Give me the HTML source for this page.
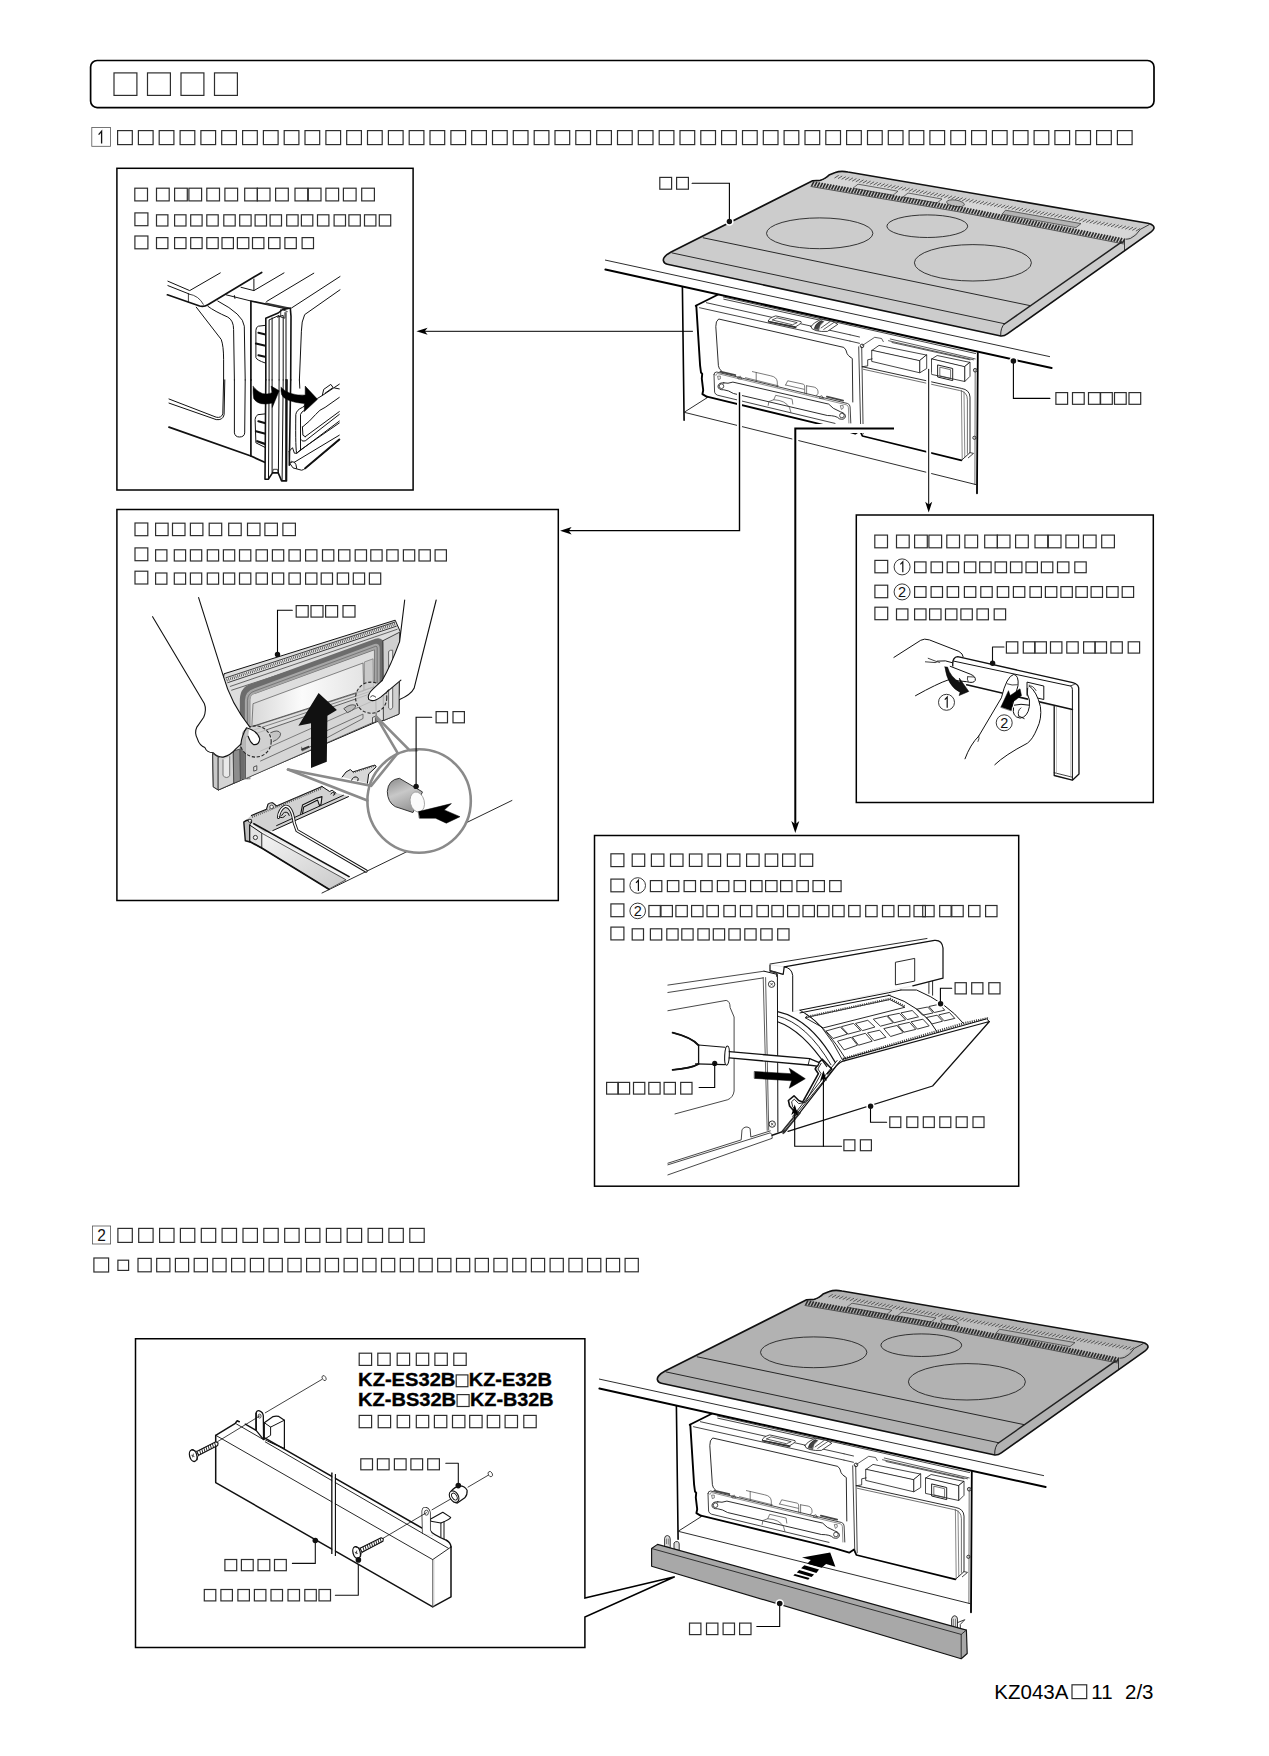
<!DOCTYPE html>
<html><head><meta charset="utf-8"><title>KZ043A 2/3</title>
<style>
html,body{margin:0;padding:0;background:#fff;}
body{width:1269px;height:1756px;overflow:hidden;font-family:"Liberation Sans",sans-serif;}
svg{display:block;}
svg text{font-family:"Liberation Sans",sans-serif;}
.t{fill:none;stroke:#2e2e2e;stroke-width:1.2;}
.k{stroke-linecap:round;stroke-linejoin:round;}
</style></head><body>
<svg width="1269" height="1756" viewBox="0 0 1269 1756">
<!-- 00_frame.py -->
<rect x="90.6" y="60.5" width="1063.4" height="47.1" rx="6.5" ry="6.5" fill="none" stroke="#000" stroke-width="1.7"/>
<rect class="t" x="114" y="72.9" width="22.9" height="22.5"/><rect class="t" x="147.5" y="72.9" width="22.9" height="22.5"/><rect class="t" x="181" y="72.9" width="22.9" height="22.5"/><rect class="t" x="214.5" y="72.9" width="22.9" height="22.5"/>
<rect x="91.8" y="127.5" width="18.6" height="18.8" fill="none" stroke="#555" stroke-width="0.8"/>
<path d="M98.6 134.6 L101.6 131.2 L101.6 143.4" fill="none" stroke="#111" stroke-width="1.3"/>
<rect class="t" x="117.6" y="130.6" width="14.7" height="14"/><rect class="t" x="138.4" y="130.6" width="14.7" height="14"/><rect class="t" x="159.2" y="130.6" width="14.7" height="14"/><rect class="t" x="180.1" y="130.6" width="14.7" height="14"/><rect class="t" x="200.9" y="130.6" width="14.7" height="14"/><rect class="t" x="221.7" y="130.6" width="14.7" height="14"/><rect class="t" x="242.6" y="130.6" width="14.7" height="14"/><rect class="t" x="263.4" y="130.6" width="14.7" height="14"/><rect class="t" x="284.2" y="130.6" width="14.7" height="14"/><rect class="t" x="305" y="130.6" width="14.7" height="14"/><rect class="t" x="325.9" y="130.6" width="14.7" height="14"/><rect class="t" x="346.7" y="130.6" width="14.7" height="14"/><rect class="t" x="367.5" y="130.6" width="14.7" height="14"/><rect class="t" x="388.4" y="130.6" width="14.7" height="14"/><rect class="t" x="409.2" y="130.6" width="14.7" height="14"/><rect class="t" x="430" y="130.6" width="14.7" height="14"/><rect class="t" x="450.9" y="130.6" width="14.7" height="14"/><rect class="t" x="471.7" y="130.6" width="14.7" height="14"/><rect class="t" x="492.5" y="130.6" width="14.7" height="14"/><rect class="t" x="513.3" y="130.6" width="14.7" height="14"/><rect class="t" x="534.2" y="130.6" width="14.7" height="14"/><rect class="t" x="555" y="130.6" width="14.7" height="14"/><rect class="t" x="575.8" y="130.6" width="14.7" height="14"/><rect class="t" x="596.7" y="130.6" width="14.7" height="14"/><rect class="t" x="617.5" y="130.6" width="14.7" height="14"/><rect class="t" x="638.3" y="130.6" width="14.7" height="14"/><rect class="t" x="659.2" y="130.6" width="14.7" height="14"/><rect class="t" x="680" y="130.6" width="14.7" height="14"/><rect class="t" x="700.8" y="130.6" width="14.7" height="14"/><rect class="t" x="721.6" y="130.6" width="14.7" height="14"/><rect class="t" x="742.5" y="130.6" width="14.7" height="14"/><rect class="t" x="763.3" y="130.6" width="14.7" height="14"/><rect class="t" x="784.1" y="130.6" width="14.7" height="14"/><rect class="t" x="805" y="130.6" width="14.7" height="14"/><rect class="t" x="825.8" y="130.6" width="14.7" height="14"/><rect class="t" x="846.6" y="130.6" width="14.7" height="14"/><rect class="t" x="867.5" y="130.6" width="14.7" height="14"/><rect class="t" x="888.3" y="130.6" width="14.7" height="14"/><rect class="t" x="909.1" y="130.6" width="14.7" height="14"/><rect class="t" x="929.9" y="130.6" width="14.7" height="14"/><rect class="t" x="950.8" y="130.6" width="14.7" height="14"/><rect class="t" x="971.6" y="130.6" width="14.7" height="14"/><rect class="t" x="992.4" y="130.6" width="14.7" height="14"/><rect class="t" x="1013.3" y="130.6" width="14.7" height="14"/><rect class="t" x="1034.1" y="130.6" width="14.7" height="14"/><rect class="t" x="1054.9" y="130.6" width="14.7" height="14"/><rect class="t" x="1075.8" y="130.6" width="14.7" height="14"/><rect class="t" x="1096.6" y="130.6" width="14.7" height="14"/><rect class="t" x="1117.4" y="130.6" width="14.7" height="14"/>
<rect x="92.4" y="1226" width="18.2" height="18" fill="none" stroke="#555" stroke-width="0.8"/>
<text x="97.2" y="1241.2" font-size="16" fill="#111" textLength="8.6" lengthAdjust="spacingAndGlyphs">2</text>
<rect class="t" x="117.9" y="1228.4" width="14.4" height="14"/><rect class="t" x="138.7" y="1228.4" width="14.4" height="14"/><rect class="t" x="159.6" y="1228.4" width="14.4" height="14"/><rect class="t" x="180.4" y="1228.4" width="14.4" height="14"/><rect class="t" x="201.3" y="1228.4" width="14.4" height="14"/><rect class="t" x="222.1" y="1228.4" width="14.4" height="14"/><rect class="t" x="243" y="1228.4" width="14.4" height="14"/><rect class="t" x="263.8" y="1228.4" width="14.4" height="14"/><rect class="t" x="284.7" y="1228.4" width="14.4" height="14"/><rect class="t" x="305.5" y="1228.4" width="14.4" height="14"/><rect class="t" x="326.4" y="1228.4" width="14.4" height="14"/><rect class="t" x="347.2" y="1228.4" width="14.4" height="14"/><rect class="t" x="368.1" y="1228.4" width="14.4" height="14"/><rect class="t" x="388.9" y="1228.4" width="14.4" height="14"/><rect class="t" x="409.8" y="1228.4" width="14.4" height="14"/>
<rect class="t" x="93.9" y="1258" width="14.7" height="14"/>
<rect class="t" x="117.9" y="1260.2" width="10.7" height="10.2"/>
<rect class="t" x="138" y="1258.4" width="13.2" height="13.4"/><rect class="t" x="156.7" y="1258.4" width="13.2" height="13.4"/><rect class="t" x="175.4" y="1258.4" width="13.2" height="13.4"/><rect class="t" x="194.2" y="1258.4" width="13.2" height="13.4"/><rect class="t" x="212.9" y="1258.4" width="13.2" height="13.4"/><rect class="t" x="231.6" y="1258.4" width="13.2" height="13.4"/><rect class="t" x="250.4" y="1258.4" width="13.2" height="13.4"/><rect class="t" x="269.1" y="1258.4" width="13.2" height="13.4"/><rect class="t" x="287.9" y="1258.4" width="13.2" height="13.4"/><rect class="t" x="306.6" y="1258.4" width="13.2" height="13.4"/><rect class="t" x="325.3" y="1258.4" width="13.2" height="13.4"/><rect class="t" x="344.1" y="1258.4" width="13.2" height="13.4"/><rect class="t" x="362.8" y="1258.4" width="13.2" height="13.4"/><rect class="t" x="381.5" y="1258.4" width="13.2" height="13.4"/><rect class="t" x="400.3" y="1258.4" width="13.2" height="13.4"/><rect class="t" x="419" y="1258.4" width="13.2" height="13.4"/><rect class="t" x="437.7" y="1258.4" width="13.2" height="13.4"/><rect class="t" x="456.5" y="1258.4" width="13.2" height="13.4"/><rect class="t" x="475.2" y="1258.4" width="13.2" height="13.4"/><rect class="t" x="493.9" y="1258.4" width="13.2" height="13.4"/><rect class="t" x="512.7" y="1258.4" width="13.2" height="13.4"/><rect class="t" x="531.4" y="1258.4" width="13.2" height="13.4"/><rect class="t" x="550.1" y="1258.4" width="13.2" height="13.4"/><rect class="t" x="568.9" y="1258.4" width="13.2" height="13.4"/><rect class="t" x="587.6" y="1258.4" width="13.2" height="13.4"/><rect class="t" x="606.4" y="1258.4" width="13.2" height="13.4"/><rect class="t" x="625.1" y="1258.4" width="13.2" height="13.4"/>
<text x="994.3" y="1698.9" font-size="20.5" fill="#000">KZ043A</text>
<rect class="t" x="1072" y="1684.8" width="14.7" height="13.8"/>
<text x="1091.3" y="1698.9" font-size="20.5" fill="#000">11</text>
<text x="1125" y="1698.9" font-size="20.5" fill="#000">2/3</text>
<rect x="116.9" y="168.3" width="296.2" height="321.7" fill="none" stroke="#000" stroke-width="1.5"/>
<rect x="116.9" y="509.5" width="441.4" height="391" fill="none" stroke="#000" stroke-width="1.5"/>
<rect x="856.3" y="515" width="297" height="287.5" fill="none" stroke="#000" stroke-width="1.5"/>
<rect x="594.5" y="835.5" width="424.2" height="350.7" fill="none" stroke="#000" stroke-width="1.5"/>
<!-- 01_text.py -->
<rect class="t" x="134.8" y="188.2" width="12.7" height="12.7"/><rect class="t" x="156.5" y="188.2" width="12.7" height="12.7"/><rect class="t" x="174.6" y="188.2" width="12.7" height="12.7"/><rect class="t" x="188.9" y="188.2" width="12.7" height="12.7"/><rect class="t" x="206.8" y="188.2" width="12.7" height="12.7"/><rect class="t" x="224.9" y="188.2" width="12.7" height="12.7"/><rect class="t" x="244.7" y="188.2" width="12.7" height="12.7"/><rect class="t" x="257.3" y="188.2" width="12.7" height="12.7"/><rect class="t" x="275.6" y="188.2" width="12.7" height="12.7"/><rect class="t" x="295" y="188.2" width="12.7" height="12.7"/><rect class="t" x="308.3" y="188.2" width="12.7" height="12.7"/><rect class="t" x="325.9" y="188.2" width="12.7" height="12.7"/><rect class="t" x="343.4" y="188.2" width="12.7" height="12.7"/><rect class="t" x="361.7" y="188.2" width="12.7" height="12.7"/>
<rect class="t" x="134.9" y="212.9" width="13" height="12.8"/>
<rect class="t" x="156.5" y="214.8" width="11.4" height="11.2"/><rect class="t" x="174.6" y="214.8" width="11.4" height="11.2"/><rect class="t" x="190.7" y="214.8" width="11.4" height="11.2"/><rect class="t" x="206.8" y="214.8" width="11.4" height="11.2"/><rect class="t" x="223.8" y="214.8" width="11.4" height="11.2"/><rect class="t" x="239.7" y="214.8" width="11.4" height="11.2"/><rect class="t" x="255.1" y="214.8" width="11.4" height="11.2"/><rect class="t" x="270.1" y="214.8" width="11.4" height="11.2"/><rect class="t" x="286.7" y="214.8" width="11.4" height="11.2"/><rect class="t" x="301.4" y="214.8" width="11.4" height="11.2"/><rect class="t" x="317.5" y="214.8" width="11.4" height="11.2"/><rect class="t" x="334.1" y="214.8" width="11.4" height="11.2"/><rect class="t" x="348.9" y="214.8" width="11.4" height="11.2"/><rect class="t" x="364.5" y="214.8" width="11.4" height="11.2"/><rect class="t" x="379.3" y="214.8" width="11.4" height="11.2"/>
<rect class="t" x="134.9" y="236" width="13" height="12.8"/>
<rect class="t" x="156.5" y="237.6" width="11.4" height="11"/><rect class="t" x="174.6" y="237.6" width="11.4" height="11"/><rect class="t" x="190.7" y="237.6" width="11.4" height="11"/><rect class="t" x="206.8" y="237.6" width="11.4" height="11"/><rect class="t" x="222" y="237.6" width="11.4" height="11"/><rect class="t" x="237.4" y="237.6" width="11.4" height="11"/><rect class="t" x="252.5" y="237.6" width="11.4" height="11"/><rect class="t" x="268.6" y="237.6" width="11.4" height="11"/><rect class="t" x="284.9" y="237.6" width="11.4" height="11"/><rect class="t" x="302.1" y="237.6" width="11.4" height="11"/>
<rect class="t" x="874.8" y="535.1" width="12.7" height="12.7"/><rect class="t" x="896.5" y="535.1" width="12.7" height="12.7"/><rect class="t" x="914.6" y="535.1" width="12.7" height="12.7"/><rect class="t" x="928.9" y="535.1" width="12.7" height="12.7"/><rect class="t" x="946.8" y="535.1" width="12.7" height="12.7"/><rect class="t" x="964.9" y="535.1" width="12.7" height="12.7"/><rect class="t" x="984.7" y="535.1" width="12.7" height="12.7"/><rect class="t" x="997.3" y="535.1" width="12.7" height="12.7"/><rect class="t" x="1015.6" y="535.1" width="12.7" height="12.7"/><rect class="t" x="1035" y="535.1" width="12.7" height="12.7"/><rect class="t" x="1048.3" y="535.1" width="12.7" height="12.7"/><rect class="t" x="1065.9" y="535.1" width="12.7" height="12.7"/><rect class="t" x="1083.4" y="535.1" width="12.7" height="12.7"/><rect class="t" x="1101.7" y="535.1" width="12.7" height="12.7"/>
<rect class="t" x="135" y="523" width="12.8" height="12.7"/>
<rect class="t" x="155.6" y="523.2" width="12.5" height="12.4"/><rect class="t" x="172.5" y="523.2" width="12.5" height="12.4"/><rect class="t" x="190.4" y="523.2" width="12.5" height="12.4"/><rect class="t" x="209.2" y="523.2" width="12.5" height="12.4"/><rect class="t" x="228.7" y="523.2" width="12.5" height="12.4"/><rect class="t" x="247.5" y="523.2" width="12.5" height="12.4"/><rect class="t" x="264.9" y="523.2" width="12.5" height="12.4"/><rect class="t" x="282.9" y="523.2" width="12.5" height="12.4"/>
<rect class="t" x="135" y="547.9" width="12.8" height="12.8"/>
<rect class="t" x="155.6" y="549.8" width="11.3" height="11.2"/><rect class="t" x="174.3" y="549.8" width="11.3" height="11.2"/><rect class="t" x="190.4" y="549.8" width="11.3" height="11.2"/><rect class="t" x="207.3" y="549.8" width="11.3" height="11.2"/><rect class="t" x="223.4" y="549.8" width="11.3" height="11.2"/><rect class="t" x="239.5" y="549.8" width="11.3" height="11.2"/><rect class="t" x="256.1" y="549.8" width="11.3" height="11.2"/><rect class="t" x="272.4" y="549.8" width="11.3" height="11.2"/><rect class="t" x="289" y="549.8" width="11.3" height="11.2"/><rect class="t" x="305.6" y="549.8" width="11.3" height="11.2"/><rect class="t" x="322.5" y="549.8" width="11.3" height="11.2"/><rect class="t" x="338.6" y="549.8" width="11.3" height="11.2"/><rect class="t" x="355.2" y="549.8" width="11.3" height="11.2"/><rect class="t" x="370.8" y="549.8" width="11.3" height="11.2"/><rect class="t" x="386.8" y="549.8" width="11.3" height="11.2"/><rect class="t" x="403.4" y="549.8" width="11.3" height="11.2"/><rect class="t" x="419" y="549.8" width="11.3" height="11.2"/><rect class="t" x="435.1" y="549.8" width="11.3" height="11.2"/>
<rect class="t" x="135" y="571.2" width="12.8" height="12.8"/>
<rect class="t" x="155.6" y="573" width="11.3" height="11.2"/><rect class="t" x="174.3" y="573" width="11.3" height="11.2"/><rect class="t" x="190.4" y="573" width="11.3" height="11.2"/><rect class="t" x="207.3" y="573" width="11.3" height="11.2"/><rect class="t" x="223.4" y="573" width="11.3" height="11.2"/><rect class="t" x="239.5" y="573" width="11.3" height="11.2"/><rect class="t" x="256.1" y="573" width="11.3" height="11.2"/><rect class="t" x="272.4" y="573" width="11.3" height="11.2"/><rect class="t" x="289" y="573" width="11.3" height="11.2"/><rect class="t" x="305.6" y="573" width="11.3" height="11.2"/><rect class="t" x="321.2" y="573" width="11.3" height="11.2"/><rect class="t" x="337.3" y="573" width="11.3" height="11.2"/><rect class="t" x="353.3" y="573" width="11.3" height="11.2"/><rect class="t" x="369.4" y="573" width="11.3" height="11.2"/>
<rect class="t" x="874.9" y="560.4" width="12.8" height="12.4"/>
<circle cx="902.1" cy="566.9" r="8.0" fill="#fff" stroke="#222" stroke-width="0.9"/><path d="M900.4 564.3 l2.4 -2.6 l0 10.6" fill="none" stroke="#111" stroke-width="1.2"/>
<rect class="t" x="914.6" y="561.9" width="11.4" height="10.8"/><rect class="t" x="931.1" y="561.9" width="11.4" height="10.8"/><rect class="t" x="947.2" y="561.9" width="11.4" height="10.8"/><rect class="t" x="964.4" y="561.9" width="11.4" height="10.8"/><rect class="t" x="979.7" y="561.9" width="11.4" height="10.8"/><rect class="t" x="995.1" y="561.9" width="11.4" height="10.8"/><rect class="t" x="1010.5" y="561.9" width="11.4" height="10.8"/><rect class="t" x="1026" y="561.9" width="11.4" height="10.8"/><rect class="t" x="1041.4" y="561.9" width="11.4" height="10.8"/><rect class="t" x="1057.5" y="561.9" width="11.4" height="10.8"/><rect class="t" x="1074.8" y="561.9" width="11.4" height="10.8"/>
<rect class="t" x="874.9" y="585.2" width="12.8" height="12.5"/>
<circle cx="902.1" cy="591.9" r="8.0" fill="#fff" stroke="#222" stroke-width="0.9"/><text x="902.1" y="597" font-size="14.5" text-anchor="middle" fill="#111">2</text>
<rect class="t" x="914.6" y="586.6" width="11.4" height="10.8"/><rect class="t" x="931.1" y="586.6" width="11.4" height="10.8"/><rect class="t" x="947.2" y="586.6" width="11.4" height="10.8"/><rect class="t" x="964.4" y="586.6" width="11.4" height="10.8"/><rect class="t" x="980.8" y="586.6" width="11.4" height="10.8"/><rect class="t" x="997.3" y="586.6" width="11.4" height="10.8"/><rect class="t" x="1013.4" y="586.6" width="11.4" height="10.8"/><rect class="t" x="1030" y="586.6" width="11.4" height="10.8"/><rect class="t" x="1045.4" y="586.6" width="11.4" height="10.8"/><rect class="t" x="1060.9" y="586.6" width="11.4" height="10.8"/><rect class="t" x="1075.9" y="586.6" width="11.4" height="10.8"/><rect class="t" x="1091.1" y="586.6" width="11.4" height="10.8"/><rect class="t" x="1106.7" y="586.6" width="11.4" height="10.8"/><rect class="t" x="1122.2" y="586.6" width="11.4" height="10.8"/>
<rect class="t" x="874.9" y="607.2" width="12.8" height="12.5"/>
<rect class="t" x="896.5" y="608.9" width="11.4" height="10.9"/><rect class="t" x="914.6" y="608.9" width="11.4" height="10.9"/><rect class="t" x="929.6" y="608.9" width="11.4" height="10.9"/><rect class="t" x="945.5" y="608.9" width="11.4" height="10.9"/><rect class="t" x="960.9" y="608.9" width="11.4" height="10.9"/><rect class="t" x="977" y="608.9" width="11.4" height="10.9"/><rect class="t" x="994.2" y="608.9" width="11.4" height="10.9"/>
<rect class="t" x="1006.4" y="641.8" width="11.4" height="11.3"/><rect class="t" x="1023.3" y="641.8" width="11.4" height="11.3"/><rect class="t" x="1035" y="641.8" width="11.4" height="11.3"/><rect class="t" x="1050.5" y="641.8" width="11.4" height="11.3"/><rect class="t" x="1066.8" y="641.8" width="11.4" height="11.3"/><rect class="t" x="1083.6" y="641.8" width="11.4" height="11.3"/><rect class="t" x="1095.1" y="641.8" width="11.4" height="11.3"/><rect class="t" x="1110.9" y="641.8" width="11.4" height="11.3"/><rect class="t" x="1128.2" y="641.8" width="11.4" height="11.3"/>
<path class="k" d="M1004 647 L992.5 647 L992.5 662.9" fill="none" stroke-width="1.1" stroke="#111" />
<rect class="t" x="610.9" y="853.8" width="13" height="12.8"/>
<rect class="t" x="632.2" y="854" width="12.5" height="12.4"/><rect class="t" x="651.4" y="854" width="12.5" height="12.4"/><rect class="t" x="670.5" y="854" width="12.5" height="12.4"/><rect class="t" x="689.4" y="854" width="12.5" height="12.4"/><rect class="t" x="708.1" y="854" width="12.5" height="12.4"/><rect class="t" x="727.4" y="854" width="12.5" height="12.4"/><rect class="t" x="746.6" y="854" width="12.5" height="12.4"/><rect class="t" x="765.2" y="854" width="12.5" height="12.4"/><rect class="t" x="782.6" y="854" width="12.5" height="12.4"/><rect class="t" x="800.2" y="854" width="12.5" height="12.4"/>
<rect class="t" x="610.9" y="879.1" width="13" height="12.7"/>
<circle cx="637.7" cy="885.5" r="7.8" fill="#fff" stroke="#222" stroke-width="0.9"/><path d="M636 882.9 l2.4 -2.6 l0 10.6" fill="none" stroke="#111" stroke-width="1.2"/>
<rect class="t" x="650.4" y="880.6" width="11.4" height="11"/><rect class="t" x="667.4" y="880.6" width="11.4" height="11"/><rect class="t" x="684.1" y="880.6" width="11.4" height="11"/><rect class="t" x="700.7" y="880.6" width="11.4" height="11"/><rect class="t" x="717.4" y="880.6" width="11.4" height="11"/><rect class="t" x="734.1" y="880.6" width="11.4" height="11"/><rect class="t" x="750.6" y="880.6" width="11.4" height="11"/><rect class="t" x="765.6" y="880.6" width="11.4" height="11"/><rect class="t" x="780.6" y="880.6" width="11.4" height="11"/><rect class="t" x="796.9" y="880.6" width="11.4" height="11"/><rect class="t" x="813" y="880.6" width="11.4" height="11"/><rect class="t" x="829.7" y="880.6" width="11.4" height="11"/>
<rect class="t" x="610.9" y="903.9" width="13" height="12.8"/>
<circle cx="637.7" cy="910.9" r="7.8" fill="#fff" stroke="#222" stroke-width="0.9"/><text x="637.7" y="916" font-size="14.5" text-anchor="middle" fill="#111">2</text>
<rect class="t" x="648.9" y="905.5" width="11.4" height="11.2"/><rect class="t" x="661" y="905.5" width="11.4" height="11.2"/><rect class="t" x="675.9" y="905.5" width="11.4" height="11.2"/><rect class="t" x="691.6" y="905.5" width="11.4" height="11.2"/><rect class="t" x="707" y="905.5" width="11.4" height="11.2"/><rect class="t" x="723.9" y="905.5" width="11.4" height="11.2"/><rect class="t" x="740.4" y="905.5" width="11.4" height="11.2"/><rect class="t" x="757" y="905.5" width="11.4" height="11.2"/><rect class="t" x="771.9" y="905.5" width="11.4" height="11.2"/><rect class="t" x="787.6" y="905.5" width="11.4" height="11.2"/><rect class="t" x="803" y="905.5" width="11.4" height="11.2"/><rect class="t" x="817.5" y="905.5" width="11.4" height="11.2"/><rect class="t" x="832.7" y="905.5" width="11.4" height="11.2"/><rect class="t" x="848.7" y="905.5" width="11.4" height="11.2"/><rect class="t" x="865.7" y="905.5" width="11.4" height="11.2"/><rect class="t" x="882.5" y="905.5" width="11.4" height="11.2"/><rect class="t" x="898.4" y="905.5" width="11.4" height="11.2"/><rect class="t" x="914" y="905.5" width="11.4" height="11.2"/><rect class="t" x="922.7" y="905.5" width="11.4" height="11.2"/><rect class="t" x="939.7" y="905.5" width="11.4" height="11.2"/><rect class="t" x="951.8" y="905.5" width="11.4" height="11.2"/><rect class="t" x="968.6" y="905.5" width="11.4" height="11.2"/><rect class="t" x="985.6" y="905.5" width="11.4" height="11.2"/>
<rect class="t" x="610.9" y="927.1" width="13" height="12.8"/>
<rect class="t" x="632.2" y="928.8" width="11.3" height="11.2"/><rect class="t" x="650.4" y="928.8" width="11.3" height="11.2"/><rect class="t" x="666.8" y="928.8" width="11.3" height="11.2"/><rect class="t" x="681.8" y="928.8" width="11.3" height="11.2"/><rect class="t" x="697.9" y="928.8" width="11.3" height="11.2"/><rect class="t" x="713.3" y="928.8" width="11.3" height="11.2"/><rect class="t" x="728.9" y="928.8" width="11.3" height="11.2"/><rect class="t" x="744.8" y="928.8" width="11.3" height="11.2"/><rect class="t" x="760.8" y="928.8" width="11.3" height="11.2"/><rect class="t" x="777.7" y="928.8" width="11.3" height="11.2"/>
<rect class="t" x="359.2" y="1353.2" width="12.4" height="12.2"/><rect class="t" x="377.8" y="1353.2" width="12.4" height="12.2"/><rect class="t" x="397.2" y="1353.2" width="12.4" height="12.2"/><rect class="t" x="416.3" y="1353.2" width="12.4" height="12.2"/><rect class="t" x="434.9" y="1353.2" width="12.4" height="12.2"/><rect class="t" x="453.8" y="1353.2" width="12.4" height="12.2"/>
<text x="358.1" y="1386" font-weight="bold" font-size="18" fill="#000" stroke="#000" stroke-width="0.35" lengthAdjust="spacingAndGlyphs" textLength="97.3">KZ-ES32B</text>
<rect class="t" x="456.2" y="1374.9" width="11.7" height="11.8"/>
<text x="468.8" y="1386" font-weight="bold" font-size="18" fill="#000" stroke="#000" stroke-width="0.35" lengthAdjust="spacingAndGlyphs" textLength="83">KZ-E32B</text>
<text x="358.1" y="1406.3" font-weight="bold" font-size="18" fill="#000" stroke="#000" stroke-width="0.35" lengthAdjust="spacingAndGlyphs" textLength="98">KZ-BS32B</text>
<rect class="t" x="457.1" y="1394.6" width="12" height="11.9"/>
<text x="470.1" y="1406.3" font-weight="bold" font-size="18" fill="#000" stroke="#000" stroke-width="0.35" lengthAdjust="spacingAndGlyphs" textLength="83.5">KZ-B32B</text>
<rect class="t" x="359.2" y="1415.4" width="12.4" height="12.3"/><rect class="t" x="378.2" y="1415.4" width="12.4" height="12.3"/><rect class="t" x="397.2" y="1415.4" width="12.4" height="12.3"/><rect class="t" x="416.3" y="1415.4" width="12.4" height="12.3"/><rect class="t" x="434.4" y="1415.4" width="12.4" height="12.3"/><rect class="t" x="452.5" y="1415.4" width="12.4" height="12.3"/><rect class="t" x="469.7" y="1415.4" width="12.4" height="12.3"/><rect class="t" x="487.3" y="1415.4" width="12.4" height="12.3"/><rect class="t" x="505.1" y="1415.4" width="12.4" height="12.3"/><rect class="t" x="523.8" y="1415.4" width="12.4" height="12.3"/>
<rect class="t" x="360.8" y="1458.8" width="11.7" height="11"/><rect class="t" x="377.4" y="1458.8" width="11.7" height="11"/><rect class="t" x="394.4" y="1458.8" width="11.7" height="11"/><rect class="t" x="410.9" y="1458.8" width="11.7" height="11"/><rect class="t" x="427.7" y="1458.8" width="11.7" height="11"/>
<path class="k" d="M445.8 1463.2 L458.3 1463.2 L458.3 1484.9" fill="none" stroke-width="1.1" stroke="#111" />
<rect class="t" x="224.9" y="1559.5" width="11.8" height="11.2"/><rect class="t" x="241.4" y="1559.5" width="11.8" height="11.2"/><rect class="t" x="258" y="1559.5" width="11.8" height="11.2"/><rect class="t" x="274.5" y="1559.5" width="11.8" height="11.2"/>
<path class="k" d="M292.4 1563.4 L315.3 1563.4 L315.3 1541.2" fill="none" stroke-width="1.1" stroke="#111" />
<rect class="t" x="204.3" y="1589.5" width="11.5" height="11.4"/><rect class="t" x="220.9" y="1589.5" width="11.5" height="11.4"/><rect class="t" x="237.9" y="1589.5" width="11.5" height="11.4"/><rect class="t" x="254.4" y="1589.5" width="11.5" height="11.4"/><rect class="t" x="271" y="1589.5" width="11.5" height="11.4"/><rect class="t" x="288" y="1589.5" width="11.5" height="11.4"/><rect class="t" x="304.8" y="1589.5" width="11.5" height="11.4"/><rect class="t" x="319" y="1589.5" width="11.5" height="11.4"/>
<path class="k" d="M335.4 1595.3 L358.3 1595.3 L358.3 1560.6" fill="none" stroke-width="1.1" stroke="#111" />
<rect class="t" x="659.8" y="177.4" width="11.8" height="11.8"/><rect class="t" x="676.6" y="177.4" width="11.8" height="11.8"/>
<rect class="t" x="1055.9" y="392.6" width="11.7" height="11.7"/><rect class="t" x="1072.5" y="392.6" width="11.7" height="11.7"/><rect class="t" x="1088.5" y="392.6" width="11.7" height="11.7"/><rect class="t" x="1100.6" y="392.6" width="11.7" height="11.7"/><rect class="t" x="1114.5" y="392.6" width="11.7" height="11.7"/><rect class="t" x="1129" y="392.6" width="11.7" height="11.7"/>
<!-- 10_cooktop.py -->
<g id="topfig">
<path class="k" d="M682.4 287.1 L684.1 420.3" fill="none" stroke-width="1.6" stroke="#000" />
<path class="k" d="M684.6 412 L707 397.8" fill="none" stroke-width="0.9" stroke="#151515" />
<path class="k" d="M684.6 412.4 L850 453.3 L976 484.6" fill="none" stroke-width="0.9" stroke="#151515" />
<path class="k" d="M695.7 305.8 L717.7 294.8" fill="none" stroke-width="1.8" stroke="#000" />
<path class="k" d="M696.3 305.8 L700.1 365.7 L701 372.5 L702.2 373.8 L701.8 378.6 L703.2 390.2 L702.4 394.2 L707 396.8" stroke-width="1.9" stroke="#000" fill="none" />
<path class="k" d="M707 396.6 L816.1 423.2 L841 429.3 L855.2 433.7 L860 430.5 L862.4 436 L961.4 460.4" fill="none" stroke-width="1.8" stroke="#000" />
<path class="k" d="M723.4 297 L850 325.3" fill="none" stroke-width="0.8" stroke="#151515" />
<path class="k" d="M723.8 299.2 L822.4 320.7" fill="none" stroke-width="0.8" stroke="#151515" />
<path class="k" d="M706.4 302.7 L850 334.8" fill="none" stroke-width="0.8" stroke="#151515" />
<path class="k" d="M699.5 307.7 L850 341.1" fill="none" stroke-width="0.8" stroke="#151515" />
<path class="k" d="M850 325.3 L975.5 353.5" fill="none" stroke-width="0.8" stroke="#151515" />
<path class="k" d="M850 334.8 L859.5 337" fill="none" stroke-width="0.8" stroke="#151515" />
<path class="k" d="M850 341.1 L859.5 343.3" fill="none" stroke-width="0.8" stroke="#151515" />
<path class="k" d="M 721.5 371 Q 718.7 369.2 718.4 365.7 L 715.8 326.6 Q 715.6 320.9 718.7 319 L 843.8 347.4 Q 846.3 349.3 847.1 353.7 Q 848.4 355.9 850 356.9" stroke-width="0.9" stroke="#151515" fill="none" />
<path class="k" d="M850 356.9 L852.3 358.5 L852.8 402" fill="none" stroke-width="0.9" stroke="#151515" />
<path class="k" d="M 768.2 320.9 Q 768.8 318 775.7 315.9 L 801 321.6 Q 802.8 322.6 795.9 326.6 Z" stroke-width="0.8" stroke="#151515" fill="#fff" />
<path class="k" d="M 772.6 319.8 L 777 317.8 L 797.2 322.6 L 792.8 324.6 Z" stroke-width="0.7" stroke="#151515" fill="none" />
<path class="k" d="M 768.8 321.8 L 795.7 327.4" stroke-width="1.6" stroke="#333" fill="none" />
<path class="k" d="M 810.8 326.6 Q 812.9 322.8 821.1 319.3 L 833.1 321.6 L 837.8 324.3 L 827.4 331.4 Q 821.1 331.9 816.1 330.6 Q 811 329.4 810.8 326.6 Z" stroke-width="0.8" stroke="#151515" fill="#fff" />
<path class="k" d="M 814.2 328.5 Q 814.8 324.1 821.1 320.6 L 823.7 321.6 Q 818.6 325.3 818.6 330.1 Z" stroke-width="0.6" stroke="#222" fill="#444" />
<path class="k" d="M 821.1 327.9 L 830 321.6 M 823.7 329.4 L 833.7 322.6" stroke-width="0.7" stroke="#151515" fill="none" />
<path class="k" d="M 714 374.5 Q 714 372 716.7 372 L 847.6 403.5 Q 850 404.4 850.1 406.9 L 850.8 423 M 714 374.5 L 714.6 392.2 Q 715.2 394.5 717.5 395.2 L 835 423.4" stroke-width="0.8" stroke="#151515" fill="none" />
<path class="k" d="M 715.8 375.4 Q 715.8 373.6 717.7 373.6 L 846.3 404.8 Q 848.4 405.4 848.4 407.7 L 848.9 423" stroke-width="0.6" stroke="#444" fill="none" />
<path class="k" d="M 723.8 382.9 Q 727.8 384 732.9 382.1 L 828.7 404.1 Q 831.8 408.5 840.7 411.9 Q 846.1 413.6 845.3 417 Q 844.1 420.3 839.4 418.8 Q 836.3 415.5 827.4 415.5 L 733.5 393.5 Q 728.5 390.3 723.8 389.8 Q 718 390 718 386.2 Q 718.5 382.4 723.8 382.9 Z" stroke-width="0.9" stroke="#151515" fill="none" />
<circle cx="721.5" cy="386.2" r="2.3" fill="none" stroke="#222" stroke-width="0.8"/>
<circle cx="841.9" cy="415.5" r="2.3" fill="none" stroke="#222" stroke-width="0.8"/>
<path class="k" d="M 718 376.1 L 720.3 376.1 L 720.3 378.9 L 718.7 379.5 Z M 737.9 377 L 740.4 376.1 L 741.7 378.9 L 738.5 378.9 Z M 819.9 396.6 L 821.8 395.6 L 823.7 398.5 L 820.1 398.5 Z M 840.7 405.6 L 843.2 405.6 L 843.2 408.2 L 841.7 409.2 Z" stroke-width="0.6" stroke="#333" fill="none" />
<path class="k" d="M 752.4 371.6 L 770.7 375.8 Q 777 377 777.3 382.1 L 777.3 387.1 M 756.2 372.6 L 756.2 380.8 M 745.5 377.7 L 778.3 385.8" stroke-width="0.7" stroke="#444" fill="none" />
<path class="k" d="M 785.6 385 L 787.7 380.8 L 803.5 384.2 Q 804.7 384.6 804.7 387.1 L 804.7 393 M 785.6 385 L 804.1 389.3 M 806.6 385.8 L 814.2 387.1 Q 818.6 388.4 818 393.4 L 816.1 395.9 M 806.6 385.8 L 806.6 394" stroke-width="0.7" stroke="#444" fill="none" />
<path class="k" d="M 768.2 405.4 L 768.8 401.6 L 773.8 399.7 L 775.7 395.3 L 792.1 399.1 L 792.8 404.1 M 773.8 399.7 Q 785.8 400.3 789.6 407.9 L 790.9 412.3" stroke-width="0.7" stroke="#444" fill="none" />
<path class="k" d="M 720.3 371.6 L 735.4 375.1" stroke-width="1.6" stroke="#444" fill="none" />
<path class="k" d="M 826.8 396.6 L 843.2 400.6" stroke-width="1.6" stroke="#444" fill="none" />
<path class="k" d="M977.8 352.9 L977 493.3" fill="none" stroke-width="1.8" stroke="#000" />
<path class="k" d="M975.2 369.3 L974.9 484.6" fill="none" stroke-width="0.7" stroke="#333" />
<path class="k" d="M858.7 346.8 L860.8 433.1" fill="none" stroke-width="0.8" stroke="#151515" />
<path class="k" d="M861.7 346.8 L863.2 433.8" fill="none" stroke-width="0.8" stroke="#151515" />
<circle cx="862" cy="345.9" r="1.8" fill="none" stroke="#222" stroke-width="0.9"/>
<circle cx="975.2" cy="370.2" r="1.8" fill="none" stroke="#222" stroke-width="0.9"/>
<circle cx="974.4" cy="437.8" r="1.6" fill="none" stroke="#222" stroke-width="0.9"/>
<path class="k" d="M 862.5 345.4 L 874.7 337.3 L 881.6 338.5 L 883.3 341.6 M 888.5 340.7 L 973.5 359.8 M 890.3 339 L 975.2 358.9 M 892 342.5 L 970 359.8" stroke-width="0.7" stroke="#151515" fill="none" />
<path class="k" d="M 872.1 350.3 L 879 345.4 L 926.7 355.1 L 919.8 360.7 Z" stroke-width="0.8" stroke="#151515" fill="#fff" />
<path class="k" d="M 872.1 350.3 L 919.8 360.7 L 919.8 372.8 L 872.1 361.5 Z" stroke-width="0.8" stroke="#151515" fill="#fff" />
<path class="k" d="M 926.7 355.1 L 926.7 368.5 L 919.8 372.8 L 919.8 360.7 Z" stroke-width="0.8" stroke="#151515" fill="#fff" />
<path class="k" d="M 872.1 358.9 L 867.7 359.8 L 867.7 365.9 L 862.5 366.7" stroke-width="0.8" stroke="#151515" fill="none" />
<path class="k" d="M 931.9 358.9 L 937.1 355.5 L 970 362.4 L 964.8 366.7 Z" stroke-width="0.8" stroke="#151515" fill="#fff" />
<path class="k" d="M 931.9 358.9 L 964.8 366.7 L 964.8 381.5 L 931.9 374.5 Z" stroke-width="0.8" stroke="#151515" fill="#fff" />
<path class="k" d="M 970 362.4 L 970 376.3 L 964.8 381.5 L 964.8 366.7 Z" stroke-width="0.8" stroke="#151515" fill="#fff" />
<path class="k" d="M 938 365 L 952.7 368.5 L 952.7 380.6 L 938 377.1 Z" stroke-width="1.0" stroke="#222" fill="none" />
<path class="k" d="M 940.2 367.3 L 950.6 369.7 L 950.6 378.4 L 940.2 375.9 Z" stroke-width="0.7" stroke="#333" fill="none" />
<path class="k" d="M 862.2 366.7 L 961.4 388.4 Q 969.7 389.8 970 397.1 L 970 452.6 L 961.4 460.4" stroke-width="0.9" stroke="#151515" fill="none" />
<path class="k" d="M 863.4 369.3 L 959.6 390.5 Q 967.4 391.9 967.4 399.7 L 967.4 453.4" stroke-width="0.7" stroke="#333" fill="none" />
<path class="k" d="M 961.4 390.2 L 962.2 459.5" stroke-width="0.7" stroke="#555" fill="none" />
<path class="k" d="M 964 391.9 L 964.8 456.9" stroke-width="0.7" stroke="#555" fill="none" />
<path class="k" d="M 970 452.6 L 973.5 453.4 L 968.3 457.8" stroke-width="0.8" stroke="#151515" fill="none" />
<path class="k" d="M605.4 260.1 L1049.6 356.6" fill="none" stroke-width="0.9" stroke="#151515" />
<path class="k" d="M605.4 269.6 L1051.6 368" fill="none" stroke-width="2" stroke="#000" />
<path d="M667.3 264.2 L999.7 335.8 Q1003.6 336.6 1007.3 333.9 L1150.8 232.2 Q1155.6 228.4 1153.2 225.8 Q1151.6 223.9 1147.9 223.2 L848 172.0 Q840.5 170.4 835.3 172.6 L829 175.1 Q824 179.6 820.2 180.4 L812.6 180.8 L671.1 252 Q662.2 257 663.5 261 Q664.2 263.6 667.3 264.2 Z" fill="#cccccc" stroke="#111" stroke-width="1.6" stroke-linejoin="round"/>
<clipPath id="cpa"><path d="M667.3 264.2 L999.7 335.8 Q1003.6 336.6 1007.3 333.9 L1150.8 232.2 Q1155.6 228.4 1153.2 225.8 Q1151.6 223.9 1147.9 223.2 L848 172.0 Q840.5 170.4 835.3 172.6 L829 175.1 Q824 179.6 820.2 180.4 L812.6 180.8 L671.1 252 Q662.2 257 663.5 261 Q664.2 263.6 667.3 264.2 Z"/></clipPath>
<g clip-path="url(#cpa)"><polygon points="818,182.6 834,175 1141,229 1124,240.2 1060,227 960,207.6" fill="#d6d6d6" stroke="none" stroke-width="1" stroke-linejoin="round" /><polygon points="1005.5,210.2 1081,223.6 1076,227.6 1002,214.2" fill="#b4b4b4" stroke="#333" stroke-width="0.7" stroke-linejoin="round" /><polygon points="858,184.2 898,191.2 893,195.2 853,188.2" fill="#d6d6d6" stroke="#333" stroke-width="0.7" stroke-linejoin="round" /><polygon points="908,193 942,199 937,203 903,197" fill="#d6d6d6" stroke="#333" stroke-width="0.7" stroke-linejoin="round" /><ellipse cx="955.5" cy="203.3" rx="9" ry="3.2" fill="#bcbcbc" stroke="#333" stroke-width="0.7" transform="rotate(9 955.5 203.3)"/><path d="M814 181.4 l-2.4 4.6 M816.9 181.9 l-2.4 4.6 M819.7 182.4 l-2.4 4.6 M822.6 182.9 l-2.4 4.6 M825.4 183.4 l-2.4 4.6 M828.3 183.8 l-2.4 4.6 M831.2 184.3 l-2.4 4.6 M834 184.8 l-2.4 4.6 M836.9 185.3 l-2.4 4.6 M839.7 185.8 l-2.4 4.6 M842.6 186.3 l-2.4 4.6 M845.4 186.8 l-2.4 4.6 M848.3 187.3 l-2.4 4.6 M851.2 187.8 l-2.4 4.6 M854 188.3 l-2.4 4.6 M856.9 188.7 l-2.4 4.6 M859.7 189.2 l-2.4 4.6 M862.6 189.7 l-2.4 4.6 M865.5 190.2 l-2.4 4.6 M868.3 190.7 l-2.4 4.6 M871.2 191.2 l-2.4 4.6 M874 191.7 l-2.4 4.6 M876.9 192.2 l-2.4 4.6 M879.7 192.7 l-2.4 4.6 M882.6 193.1 l-2.4 4.6 M885.5 193.6 l-2.4 4.6 M888.3 194.1 l-2.4 4.6 M891.2 194.6 l-2.4 4.6 M894 195.1 l-2.4 4.6 M896.9 195.6 l-2.4 4.6 M899.8 196.1 l-2.4 4.6 M902.6 196.6 l-2.4 4.6 M905.5 197.1 l-2.4 4.6 M908.3 197.5 l-2.4 4.6 M911.2 198 l-2.4 4.6 M914 198.5 l-2.4 4.6 M916.9 199 l-2.4 4.6 M919.8 199.5 l-2.4 4.6 M922.6 200 l-2.4 4.6 M925.5 200.5 l-2.4 4.6 M928.3 201 l-2.4 4.6 M931.2 201.5 l-2.4 4.6 M934.1 202 l-2.4 4.6 M936.9 202.4 l-2.4 4.6 M939.8 202.9 l-2.4 4.6 M942.6 203.4 l-2.4 4.6 M945.5 203.9 l-2.4 4.6 M948.3 204.4 l-2.4 4.6 M951.2 204.9 l-2.4 4.6 M954.1 205.4 l-2.4 4.6 M956.9 205.9 l-2.4 4.6 M959.8 206.4 l-2.4 4.6 M962.6 206.9 l-2.4 4.6 M965.5 207.4 l-2.4 4.6 M968.3 208 l-2.4 4.6 M971.2 208.5 l-2.4 4.6 M974 209.1 l-2.4 4.6 M976.9 209.6 l-2.4 4.6 M979.7 210.2 l-2.4 4.6 M982.6 210.7 l-2.4 4.6 M985.4 211.3 l-2.4 4.6 M988.3 211.8 l-2.4 4.6 M991.1 212.4 l-2.4 4.6 M993.9 213 l-2.4 4.6 M996.8 213.5 l-2.4 4.6 M999.6 214.1 l-2.4 4.6 M1002.5 214.6 l-2.4 4.6 M1005.3 215.2 l-2.4 4.6 M1008.2 215.7 l-2.4 4.6 M1011 216.3 l-2.4 4.6 M1013.9 216.8 l-2.4 4.6 M1016.7 217.4 l-2.4 4.6 M1019.6 217.9 l-2.4 4.6 M1022.4 218.5 l-2.4 4.6 M1025.3 219 l-2.4 4.6 M1028.1 219.6 l-2.4 4.6 M1031 220.1 l-2.4 4.6 M1033.8 220.7 l-2.4 4.6 M1036.7 221.2 l-2.4 4.6 M1039.5 221.8 l-2.4 4.6 M1042.3 222.3 l-2.4 4.6 M1045.2 222.9 l-2.4 4.6 M1048 223.4 l-2.4 4.6 M1050.9 224 l-2.4 4.6 M1053.7 224.6 l-2.4 4.6 M1056.6 225.1 l-2.4 4.6 M1059.4 225.7 l-2.4 4.6 M1062.3 226.2 l-2.4 4.6 M1065.1 226.8 l-2.4 4.6 M1068 227.3 l-2.4 4.6 M1070.8 227.9 l-2.4 4.6 M1073.7 228.4 l-2.4 4.6 M1076.5 229 l-2.4 4.6 M1079.3 229.6 l-2.4 4.6 M1082.2 230.1 l-2.4 4.6 M1085 230.7 l-2.4 4.6 M1087.9 231.2 l-2.4 4.6 M1090.7 231.8 l-2.4 4.6 M1093.6 232.4 l-2.4 4.6 M1096.4 232.9 l-2.4 4.6 M1099.3 233.5 l-2.4 4.6 M1102.1 234 l-2.4 4.6 M1105 234.6 l-2.4 4.6 M1107.8 235.1 l-2.4 4.6 M1110.7 235.7 l-2.4 4.6 M1113.5 236.3 l-2.4 4.6 M1116.3 236.8 l-2.4 4.6 M1119.2 237.4 l-2.4 4.6 M1122 237.9 l-2.4 4.6 M1124.9 238.5 l-2.4 4.6" stroke="#2a2a2a" stroke-width="1.6" fill="none"/><path class="k" d="M811 186.5 L958.2 211.7 L1058.2 231.1 L1123.4 243.9" fill="none" stroke-width="0.8" stroke="#333" /><path d="M838.7 175.4 l-4.2 2.6 M842.2 176 l-4.2 2.6 M845.8 176.7 l-4.2 2.6 M849.3 177.3 l-4.2 2.6 M852.9 177.9 l-4.2 2.6 M856.4 178.6 l-4.2 2.6 M860 179.2 l-4.2 2.6 M863.5 179.9 l-4.2 2.6 M867 180.5 l-4.2 2.6 M870.6 181.1 l-4.2 2.6 M874.1 181.8 l-4.2 2.6 M877.7 182.4 l-4.2 2.6 M881.2 183 l-4.2 2.6 M884.8 183.7 l-4.2 2.6 M888.3 184.3 l-4.2 2.6 M891.8 185 l-4.2 2.6 M895.4 185.6 l-4.2 2.6 M898.9 186.2 l-4.2 2.6 M902.5 186.9 l-4.2 2.6 M906 187.5 l-4.2 2.6 M909.6 188.1 l-4.2 2.6 M913.1 188.8 l-4.2 2.6 M916.7 189.4 l-4.2 2.6 M920.2 190 l-4.2 2.6 M923.7 190.7 l-4.2 2.6 M927.3 191.3 l-4.2 2.6 M930.8 192 l-4.2 2.6 M934.4 192.6 l-4.2 2.6 M937.9 193.2 l-4.2 2.6 M941.5 193.9 l-4.2 2.6 M945 194.5 l-4.2 2.6 M948.5 195.1 l-4.2 2.6 M952.1 195.8 l-4.2 2.6 M955.6 196.4 l-4.2 2.6 M959.2 197.1 l-4.2 2.6 M962.7 197.7 l-4.2 2.6 M966.3 198.3 l-4.2 2.6 M969.8 198.9 l-4.2 2.6 M973.4 199.5 l-4.2 2.6 M976.9 200.2 l-4.2 2.6 M980.4 200.8 l-4.2 2.6 M984 201.4 l-4.2 2.6 M987.5 202 l-4.2 2.6 M991.1 202.6 l-4.2 2.6 M994.6 203.2 l-4.2 2.6 M998.2 203.9 l-4.2 2.6 M1001.7 204.5 l-4.2 2.6 M1005.3 205.1 l-4.2 2.6 M1008.8 205.7 l-4.2 2.6 M1012.4 206.3 l-4.2 2.6 M1015.9 206.9 l-4.2 2.6 M1019.5 207.6 l-4.2 2.6 M1023 208.2 l-4.2 2.6 M1026.6 208.8 l-4.2 2.6 M1030.1 209.4 l-4.2 2.6 M1033.6 210 l-4.2 2.6 M1037.2 210.6 l-4.2 2.6 M1040.7 211.3 l-4.2 2.6 M1044.3 211.9 l-4.2 2.6 M1047.8 212.5 l-4.2 2.6 M1051.4 213.1 l-4.2 2.6 M1054.9 213.7 l-4.2 2.6 M1058.5 214.4 l-4.2 2.6 M1062 215 l-4.2 2.6 M1065.6 215.6 l-4.2 2.6 M1069.1 216.2 l-4.2 2.6 M1072.7 216.8 l-4.2 2.6 M1076.2 217.4 l-4.2 2.6 M1079.8 218 l-4.2 2.6 M1083.3 218.6 l-4.2 2.6 M1086.9 219.3 l-4.2 2.6 M1090.4 219.9 l-4.2 2.6 M1093.9 220.5 l-4.2 2.6 M1097.5 221.1 l-4.2 2.6 M1101 221.7 l-4.2 2.6 M1104.6 222.3 l-4.2 2.6 M1108.1 222.9 l-4.2 2.6 M1111.7 223.6 l-4.2 2.6 M1115.2 224.2 l-4.2 2.6 M1118.8 224.8 l-4.2 2.6 M1122.3 225.4 l-4.2 2.6 M1125.9 226 l-4.2 2.6 M1129.4 226.6 l-4.2 2.6 M1133 227.2 l-4.2 2.6 M1136.5 227.8 l-4.2 2.6 M1140.1 228.5 l-4.2 2.6" stroke="#4a4a4a" stroke-width="0.9" fill="none"/></g>
<path class="k" d="M672 252.9 L1004.4 323.7" fill="none" stroke-width="0.9" stroke="#151515" />
<path class="k" d="M1004.4 323.7 Q1000.4 328 1000.7 335.2" stroke-width="0.9" stroke="#151515" fill="none" />
<path class="k" d="M703.2 237.8 L1030 305.6" fill="none" stroke-width="0.9" stroke="#151515" />
<path class="k" d="M1004.4 324 L1121.8 241.9" fill="none" stroke-width="1.5" stroke="#222" />
<path class="k" d="M1124.5 240.7 L1124.5 250.1" fill="none" stroke-width="0.8" stroke="#151515" />
<path class="k" d="M1148.9 224.8 L1140.4 229.3 Q1136 236 1130.5 238.4 Q1128 239.2 1126.2 239.2" stroke-width="0.8" stroke="#151515" fill="none" />
<ellipse cx="819.7" cy="233.3" rx="53.2" ry="15.4" fill="none" stroke="#222" stroke-width="0.9"/>
<ellipse cx="927.3" cy="226.2" rx="40.4" ry="11.3" fill="none" stroke="#222" stroke-width="0.9"/>
<ellipse cx="972.9" cy="262.8" rx="58.5" ry="18.2" fill="none" stroke="#222" stroke-width="0.9"/>
</g>
<path class="k" d="M692.5 331.3 L424 331.3" fill="none" stroke-width="1" stroke="#000" />
<polygon points="416.4,331.3 427.6,327.8 424.8,331.3 427.6,334.8" fill="#000" stroke="none" stroke-width="1" stroke-linejoin="round" />
<path class="k" d="M739.5 393 L739.5 500" fill="none" stroke-width="5" stroke="#fff" style="stroke-linecap:butt"/>
<path class="k" d="M739.5 392.2 L739.5 530.6 L568 530.6" fill="none" stroke-width="1.4" stroke="#000" style="stroke-linejoin:miter;stroke-linecap:butt"/>
<polygon points="560.1,530.7 571.6,527 568.8,530.7 571.6,534.4" fill="#000" stroke="none" stroke-width="1" stroke-linejoin="round" />
<path class="k" d="M928.7 372 L928.7 495" fill="none" stroke-width="5" stroke="#fff" style="stroke-linecap:butt"/>
<path class="k" d="M928.7 369.3 L928.7 505" fill="none" stroke-width="1" stroke="#000" />
<polygon points="928.7,512.6 925.2,501.8 928.7,504.6 932.2,501.8" fill="#000" stroke="none" stroke-width="1" stroke-linejoin="round" />
<path class="k" d="M795.3 432 L795.3 500" fill="none" stroke-width="6" stroke="#fff" style="stroke-linecap:butt"/>
<path class="k" d="M799 428.6 L894 428.6" fill="none" stroke-width="9" stroke="#fff" style="stroke-linecap:butt"/>
<path class="k" d="M894 428.4 L795.3 428.4 L795.3 824" fill="none" stroke-width="2" stroke="#000" style="stroke-linejoin:miter;stroke-linecap:butt"/>
<polygon points="795.3,833 791.3,821 795.3,824.2 799.3,821" fill="#000" stroke="none" stroke-width="1" stroke-linejoin="round" />
<circle cx="729.4" cy="221.5" r="4.3" fill="#fff"/>
<path class="k" d="M692.1 183.3 L729.4 183.3 L729.4 221.3" fill="none" stroke-width="1.1" stroke="#000" style="stroke-linejoin:miter"/>
<circle cx="729.4" cy="221.5" r="2.7" fill="#111"/>
<circle cx="1013.4" cy="361" r="4.3" fill="#fff"/>
<path class="k" d="M1013.4 361 L1013.4 398.4 L1049.9 398.4" fill="none" stroke-width="1.1" stroke="#000" style="stroke-linejoin:miter"/>
<circle cx="1013.4" cy="361" r="2.8" fill="#111"/>
<!-- 20_bottom.py -->
<g transform="translate(-6 1119)">
<path class="k" d="M682.4 287.1 L684.1 420.3" fill="none" stroke-width="1.6" stroke="#000" />
<path class="k" d="M684.6 412 L707 397.8" fill="none" stroke-width="0.9" stroke="#151515" />
<path class="k" d="M684.6 412.4 L850 453.3 L976 484.6" fill="none" stroke-width="0.9" stroke="#151515" />
<path class="k" d="M695.7 305.8 L717.7 294.8" fill="none" stroke-width="1.8" stroke="#000" />
<path class="k" d="M696.3 305.8 L700.1 365.7 L701 372.5 L702.2 373.8 L701.8 378.6 L703.2 390.2 L702.4 394.2 L707 396.8" stroke-width="1.9" stroke="#000" fill="none" />
<path class="k" d="M707 396.6 L816.1 423.2 L841 429.3 L855.2 433.7 L860 430.5 L862.4 436 L961.4 460.4" fill="none" stroke-width="1.8" stroke="#000" />
<path class="k" d="M723.4 297 L850 325.3" fill="none" stroke-width="0.8" stroke="#151515" />
<path class="k" d="M723.8 299.2 L822.4 320.7" fill="none" stroke-width="0.8" stroke="#151515" />
<path class="k" d="M706.4 302.7 L850 334.8" fill="none" stroke-width="0.8" stroke="#151515" />
<path class="k" d="M699.5 307.7 L850 341.1" fill="none" stroke-width="0.8" stroke="#151515" />
<path class="k" d="M850 325.3 L975.5 353.5" fill="none" stroke-width="0.8" stroke="#151515" />
<path class="k" d="M850 334.8 L859.5 337" fill="none" stroke-width="0.8" stroke="#151515" />
<path class="k" d="M850 341.1 L859.5 343.3" fill="none" stroke-width="0.8" stroke="#151515" />
<path class="k" d="M 721.5 371 Q 718.7 369.2 718.4 365.7 L 715.8 326.6 Q 715.6 320.9 718.7 319 L 843.8 347.4 Q 846.3 349.3 847.1 353.7 Q 848.4 355.9 850 356.9" stroke-width="0.9" stroke="#151515" fill="none" />
<path class="k" d="M850 356.9 L852.3 358.5 L852.8 402" fill="none" stroke-width="0.9" stroke="#151515" />
<path class="k" d="M 768.2 320.9 Q 768.8 318 775.7 315.9 L 801 321.6 Q 802.8 322.6 795.9 326.6 Z" stroke-width="0.8" stroke="#151515" fill="#fff" />
<path class="k" d="M 772.6 319.8 L 777 317.8 L 797.2 322.6 L 792.8 324.6 Z" stroke-width="0.7" stroke="#151515" fill="none" />
<path class="k" d="M 768.8 321.8 L 795.7 327.4" stroke-width="1.6" stroke="#333" fill="none" />
<path class="k" d="M 810.8 326.6 Q 812.9 322.8 821.1 319.3 L 833.1 321.6 L 837.8 324.3 L 827.4 331.4 Q 821.1 331.9 816.1 330.6 Q 811 329.4 810.8 326.6 Z" stroke-width="0.8" stroke="#151515" fill="#fff" />
<path class="k" d="M 814.2 328.5 Q 814.8 324.1 821.1 320.6 L 823.7 321.6 Q 818.6 325.3 818.6 330.1 Z" stroke-width="0.6" stroke="#222" fill="#444" />
<path class="k" d="M 821.1 327.9 L 830 321.6 M 823.7 329.4 L 833.7 322.6" stroke-width="0.7" stroke="#151515" fill="none" />
<path class="k" d="M 714 374.5 Q 714 372 716.7 372 L 847.6 403.5 Q 850 404.4 850.1 406.9 L 850.8 423 M 714 374.5 L 714.6 392.2 Q 715.2 394.5 717.5 395.2 L 835 423.4" stroke-width="0.8" stroke="#151515" fill="none" />
<path class="k" d="M 715.8 375.4 Q 715.8 373.6 717.7 373.6 L 846.3 404.8 Q 848.4 405.4 848.4 407.7 L 848.9 423" stroke-width="0.6" stroke="#444" fill="none" />
<path class="k" d="M 723.8 382.9 Q 727.8 384 732.9 382.1 L 828.7 404.1 Q 831.8 408.5 840.7 411.9 Q 846.1 413.6 845.3 417 Q 844.1 420.3 839.4 418.8 Q 836.3 415.5 827.4 415.5 L 733.5 393.5 Q 728.5 390.3 723.8 389.8 Q 718 390 718 386.2 Q 718.5 382.4 723.8 382.9 Z" stroke-width="0.9" stroke="#151515" fill="none" />
<circle cx="721.5" cy="386.2" r="2.3" fill="none" stroke="#222" stroke-width="0.8"/>
<circle cx="841.9" cy="415.5" r="2.3" fill="none" stroke="#222" stroke-width="0.8"/>
<path class="k" d="M 718 376.1 L 720.3 376.1 L 720.3 378.9 L 718.7 379.5 Z M 737.9 377 L 740.4 376.1 L 741.7 378.9 L 738.5 378.9 Z M 819.9 396.6 L 821.8 395.6 L 823.7 398.5 L 820.1 398.5 Z M 840.7 405.6 L 843.2 405.6 L 843.2 408.2 L 841.7 409.2 Z" stroke-width="0.6" stroke="#333" fill="none" />
<path class="k" d="M 752.4 371.6 L 770.7 375.8 Q 777 377 777.3 382.1 L 777.3 387.1 M 756.2 372.6 L 756.2 380.8 M 745.5 377.7 L 778.3 385.8" stroke-width="0.7" stroke="#444" fill="none" />
<path class="k" d="M 785.6 385 L 787.7 380.8 L 803.5 384.2 Q 804.7 384.6 804.7 387.1 L 804.7 393 M 785.6 385 L 804.1 389.3 M 806.6 385.8 L 814.2 387.1 Q 818.6 388.4 818 393.4 L 816.1 395.9 M 806.6 385.8 L 806.6 394" stroke-width="0.7" stroke="#444" fill="none" />
<path class="k" d="M 768.2 405.4 L 768.8 401.6 L 773.8 399.7 L 775.7 395.3 L 792.1 399.1 L 792.8 404.1 M 773.8 399.7 Q 785.8 400.3 789.6 407.9 L 790.9 412.3" stroke-width="0.7" stroke="#444" fill="none" />
<path class="k" d="M 720.3 371.6 L 735.4 375.1" stroke-width="1.6" stroke="#444" fill="none" />
<path class="k" d="M 826.8 396.6 L 843.2 400.6" stroke-width="1.6" stroke="#444" fill="none" />
<path class="k" d="M977.8 352.9 L977 493.3" fill="none" stroke-width="1.8" stroke="#000" />
<path class="k" d="M975.2 369.3 L974.9 484.6" fill="none" stroke-width="0.7" stroke="#333" />
<path class="k" d="M858.7 346.8 L860.8 433.1" fill="none" stroke-width="0.8" stroke="#151515" />
<path class="k" d="M861.7 346.8 L863.2 433.8" fill="none" stroke-width="0.8" stroke="#151515" />
<circle cx="862" cy="345.9" r="1.8" fill="none" stroke="#222" stroke-width="0.9"/>
<circle cx="975.2" cy="370.2" r="1.8" fill="none" stroke="#222" stroke-width="0.9"/>
<circle cx="974.4" cy="437.8" r="1.6" fill="none" stroke="#222" stroke-width="0.9"/>
<path class="k" d="M 862.5 345.4 L 874.7 337.3 L 881.6 338.5 L 883.3 341.6 M 888.5 340.7 L 973.5 359.8 M 890.3 339 L 975.2 358.9 M 892 342.5 L 970 359.8" stroke-width="0.7" stroke="#151515" fill="none" />
<path class="k" d="M 872.1 350.3 L 879 345.4 L 926.7 355.1 L 919.8 360.7 Z" stroke-width="0.8" stroke="#151515" fill="#fff" />
<path class="k" d="M 872.1 350.3 L 919.8 360.7 L 919.8 372.8 L 872.1 361.5 Z" stroke-width="0.8" stroke="#151515" fill="#fff" />
<path class="k" d="M 926.7 355.1 L 926.7 368.5 L 919.8 372.8 L 919.8 360.7 Z" stroke-width="0.8" stroke="#151515" fill="#fff" />
<path class="k" d="M 872.1 358.9 L 867.7 359.8 L 867.7 365.9 L 862.5 366.7" stroke-width="0.8" stroke="#151515" fill="none" />
<path class="k" d="M 931.9 358.9 L 937.1 355.5 L 970 362.4 L 964.8 366.7 Z" stroke-width="0.8" stroke="#151515" fill="#fff" />
<path class="k" d="M 931.9 358.9 L 964.8 366.7 L 964.8 381.5 L 931.9 374.5 Z" stroke-width="0.8" stroke="#151515" fill="#fff" />
<path class="k" d="M 970 362.4 L 970 376.3 L 964.8 381.5 L 964.8 366.7 Z" stroke-width="0.8" stroke="#151515" fill="#fff" />
<path class="k" d="M 938 365 L 952.7 368.5 L 952.7 380.6 L 938 377.1 Z" stroke-width="1.0" stroke="#222" fill="none" />
<path class="k" d="M 940.2 367.3 L 950.6 369.7 L 950.6 378.4 L 940.2 375.9 Z" stroke-width="0.7" stroke="#333" fill="none" />
<path class="k" d="M 862.2 366.7 L 961.4 388.4 Q 969.7 389.8 970 397.1 L 970 452.6 L 961.4 460.4" stroke-width="0.9" stroke="#151515" fill="none" />
<path class="k" d="M 863.4 369.3 L 959.6 390.5 Q 967.4 391.9 967.4 399.7 L 967.4 453.4" stroke-width="0.7" stroke="#333" fill="none" />
<path class="k" d="M 961.4 390.2 L 962.2 459.5" stroke-width="0.7" stroke="#555" fill="none" />
<path class="k" d="M 964 391.9 L 964.8 456.9" stroke-width="0.7" stroke="#555" fill="none" />
<path class="k" d="M 970 452.6 L 973.5 453.4 L 968.3 457.8" stroke-width="0.8" stroke="#151515" fill="none" />
<path class="k" d="M605.4 260.1 L1049.6 356.6" fill="none" stroke-width="0.9" stroke="#151515" />
<path class="k" d="M605.4 269.6 L1051.6 368" fill="none" stroke-width="2" stroke="#000" />
<path d="M667.3 264.2 L999.7 335.8 Q1003.6 336.6 1007.3 333.9 L1150.8 232.2 Q1155.6 228.4 1153.2 225.8 Q1151.6 223.9 1147.9 223.2 L848 172.0 Q840.5 170.4 835.3 172.6 L829 175.1 Q824 179.6 820.2 180.4 L812.6 180.8 L671.1 252 Q662.2 257 663.5 261 Q664.2 263.6 667.3 264.2 Z" fill="#b2b2b2" stroke="#111" stroke-width="1.6" stroke-linejoin="round"/>
<clipPath id="cpb"><path d="M667.3 264.2 L999.7 335.8 Q1003.6 336.6 1007.3 333.9 L1150.8 232.2 Q1155.6 228.4 1153.2 225.8 Q1151.6 223.9 1147.9 223.2 L848 172.0 Q840.5 170.4 835.3 172.6 L829 175.1 Q824 179.6 820.2 180.4 L812.6 180.8 L671.1 252 Q662.2 257 663.5 261 Q664.2 263.6 667.3 264.2 Z"/></clipPath>
<g clip-path="url(#cpb)"><polygon points="818,182.6 834,175 1141,229 1124,240.2 1060,227 960,207.6" fill="#bdbdbd" stroke="none" stroke-width="1" stroke-linejoin="round" /><polygon points="1005.5,210.2 1081,223.6 1076,227.6 1002,214.2" fill="#b4b4b4" stroke="#333" stroke-width="0.7" stroke-linejoin="round" /><polygon points="858,184.2 898,191.2 893,195.2 853,188.2" fill="#bdbdbd" stroke="#333" stroke-width="0.7" stroke-linejoin="round" /><polygon points="908,193 942,199 937,203 903,197" fill="#bdbdbd" stroke="#333" stroke-width="0.7" stroke-linejoin="round" /><ellipse cx="955.5" cy="203.3" rx="9" ry="3.2" fill="#bcbcbc" stroke="#333" stroke-width="0.7" transform="rotate(9 955.5 203.3)"/><path d="M814 181.4 l-2.4 4.6 M816.9 181.9 l-2.4 4.6 M819.7 182.4 l-2.4 4.6 M822.6 182.9 l-2.4 4.6 M825.4 183.4 l-2.4 4.6 M828.3 183.8 l-2.4 4.6 M831.2 184.3 l-2.4 4.6 M834 184.8 l-2.4 4.6 M836.9 185.3 l-2.4 4.6 M839.7 185.8 l-2.4 4.6 M842.6 186.3 l-2.4 4.6 M845.4 186.8 l-2.4 4.6 M848.3 187.3 l-2.4 4.6 M851.2 187.8 l-2.4 4.6 M854 188.3 l-2.4 4.6 M856.9 188.7 l-2.4 4.6 M859.7 189.2 l-2.4 4.6 M862.6 189.7 l-2.4 4.6 M865.5 190.2 l-2.4 4.6 M868.3 190.7 l-2.4 4.6 M871.2 191.2 l-2.4 4.6 M874 191.7 l-2.4 4.6 M876.9 192.2 l-2.4 4.6 M879.7 192.7 l-2.4 4.6 M882.6 193.1 l-2.4 4.6 M885.5 193.6 l-2.4 4.6 M888.3 194.1 l-2.4 4.6 M891.2 194.6 l-2.4 4.6 M894 195.1 l-2.4 4.6 M896.9 195.6 l-2.4 4.6 M899.8 196.1 l-2.4 4.6 M902.6 196.6 l-2.4 4.6 M905.5 197.1 l-2.4 4.6 M908.3 197.5 l-2.4 4.6 M911.2 198 l-2.4 4.6 M914 198.5 l-2.4 4.6 M916.9 199 l-2.4 4.6 M919.8 199.5 l-2.4 4.6 M922.6 200 l-2.4 4.6 M925.5 200.5 l-2.4 4.6 M928.3 201 l-2.4 4.6 M931.2 201.5 l-2.4 4.6 M934.1 202 l-2.4 4.6 M936.9 202.4 l-2.4 4.6 M939.8 202.9 l-2.4 4.6 M942.6 203.4 l-2.4 4.6 M945.5 203.9 l-2.4 4.6 M948.3 204.4 l-2.4 4.6 M951.2 204.9 l-2.4 4.6 M954.1 205.4 l-2.4 4.6 M956.9 205.9 l-2.4 4.6 M959.8 206.4 l-2.4 4.6 M962.6 206.9 l-2.4 4.6 M965.5 207.4 l-2.4 4.6 M968.3 208 l-2.4 4.6 M971.2 208.5 l-2.4 4.6 M974 209.1 l-2.4 4.6 M976.9 209.6 l-2.4 4.6 M979.7 210.2 l-2.4 4.6 M982.6 210.7 l-2.4 4.6 M985.4 211.3 l-2.4 4.6 M988.3 211.8 l-2.4 4.6 M991.1 212.4 l-2.4 4.6 M993.9 213 l-2.4 4.6 M996.8 213.5 l-2.4 4.6 M999.6 214.1 l-2.4 4.6 M1002.5 214.6 l-2.4 4.6 M1005.3 215.2 l-2.4 4.6 M1008.2 215.7 l-2.4 4.6 M1011 216.3 l-2.4 4.6 M1013.9 216.8 l-2.4 4.6 M1016.7 217.4 l-2.4 4.6 M1019.6 217.9 l-2.4 4.6 M1022.4 218.5 l-2.4 4.6 M1025.3 219 l-2.4 4.6 M1028.1 219.6 l-2.4 4.6 M1031 220.1 l-2.4 4.6 M1033.8 220.7 l-2.4 4.6 M1036.7 221.2 l-2.4 4.6 M1039.5 221.8 l-2.4 4.6 M1042.3 222.3 l-2.4 4.6 M1045.2 222.9 l-2.4 4.6 M1048 223.4 l-2.4 4.6 M1050.9 224 l-2.4 4.6 M1053.7 224.6 l-2.4 4.6 M1056.6 225.1 l-2.4 4.6 M1059.4 225.7 l-2.4 4.6 M1062.3 226.2 l-2.4 4.6 M1065.1 226.8 l-2.4 4.6 M1068 227.3 l-2.4 4.6 M1070.8 227.9 l-2.4 4.6 M1073.7 228.4 l-2.4 4.6 M1076.5 229 l-2.4 4.6 M1079.3 229.6 l-2.4 4.6 M1082.2 230.1 l-2.4 4.6 M1085 230.7 l-2.4 4.6 M1087.9 231.2 l-2.4 4.6 M1090.7 231.8 l-2.4 4.6 M1093.6 232.4 l-2.4 4.6 M1096.4 232.9 l-2.4 4.6 M1099.3 233.5 l-2.4 4.6 M1102.1 234 l-2.4 4.6 M1105 234.6 l-2.4 4.6 M1107.8 235.1 l-2.4 4.6 M1110.7 235.7 l-2.4 4.6 M1113.5 236.3 l-2.4 4.6 M1116.3 236.8 l-2.4 4.6 M1119.2 237.4 l-2.4 4.6 M1122 237.9 l-2.4 4.6 M1124.9 238.5 l-2.4 4.6" stroke="#2a2a2a" stroke-width="1.6" fill="none"/><path class="k" d="M811 186.5 L958.2 211.7 L1058.2 231.1 L1123.4 243.9" fill="none" stroke-width="0.8" stroke="#333" /><path d="M838.7 175.4 l-4.2 2.6 M842.2 176 l-4.2 2.6 M845.8 176.7 l-4.2 2.6 M849.3 177.3 l-4.2 2.6 M852.9 177.9 l-4.2 2.6 M856.4 178.6 l-4.2 2.6 M860 179.2 l-4.2 2.6 M863.5 179.9 l-4.2 2.6 M867 180.5 l-4.2 2.6 M870.6 181.1 l-4.2 2.6 M874.1 181.8 l-4.2 2.6 M877.7 182.4 l-4.2 2.6 M881.2 183 l-4.2 2.6 M884.8 183.7 l-4.2 2.6 M888.3 184.3 l-4.2 2.6 M891.8 185 l-4.2 2.6 M895.4 185.6 l-4.2 2.6 M898.9 186.2 l-4.2 2.6 M902.5 186.9 l-4.2 2.6 M906 187.5 l-4.2 2.6 M909.6 188.1 l-4.2 2.6 M913.1 188.8 l-4.2 2.6 M916.7 189.4 l-4.2 2.6 M920.2 190 l-4.2 2.6 M923.7 190.7 l-4.2 2.6 M927.3 191.3 l-4.2 2.6 M930.8 192 l-4.2 2.6 M934.4 192.6 l-4.2 2.6 M937.9 193.2 l-4.2 2.6 M941.5 193.9 l-4.2 2.6 M945 194.5 l-4.2 2.6 M948.5 195.1 l-4.2 2.6 M952.1 195.8 l-4.2 2.6 M955.6 196.4 l-4.2 2.6 M959.2 197.1 l-4.2 2.6 M962.7 197.7 l-4.2 2.6 M966.3 198.3 l-4.2 2.6 M969.8 198.9 l-4.2 2.6 M973.4 199.5 l-4.2 2.6 M976.9 200.2 l-4.2 2.6 M980.4 200.8 l-4.2 2.6 M984 201.4 l-4.2 2.6 M987.5 202 l-4.2 2.6 M991.1 202.6 l-4.2 2.6 M994.6 203.2 l-4.2 2.6 M998.2 203.9 l-4.2 2.6 M1001.7 204.5 l-4.2 2.6 M1005.3 205.1 l-4.2 2.6 M1008.8 205.7 l-4.2 2.6 M1012.4 206.3 l-4.2 2.6 M1015.9 206.9 l-4.2 2.6 M1019.5 207.6 l-4.2 2.6 M1023 208.2 l-4.2 2.6 M1026.6 208.8 l-4.2 2.6 M1030.1 209.4 l-4.2 2.6 M1033.6 210 l-4.2 2.6 M1037.2 210.6 l-4.2 2.6 M1040.7 211.3 l-4.2 2.6 M1044.3 211.9 l-4.2 2.6 M1047.8 212.5 l-4.2 2.6 M1051.4 213.1 l-4.2 2.6 M1054.9 213.7 l-4.2 2.6 M1058.5 214.4 l-4.2 2.6 M1062 215 l-4.2 2.6 M1065.6 215.6 l-4.2 2.6 M1069.1 216.2 l-4.2 2.6 M1072.7 216.8 l-4.2 2.6 M1076.2 217.4 l-4.2 2.6 M1079.8 218 l-4.2 2.6 M1083.3 218.6 l-4.2 2.6 M1086.9 219.3 l-4.2 2.6 M1090.4 219.9 l-4.2 2.6 M1093.9 220.5 l-4.2 2.6 M1097.5 221.1 l-4.2 2.6 M1101 221.7 l-4.2 2.6 M1104.6 222.3 l-4.2 2.6 M1108.1 222.9 l-4.2 2.6 M1111.7 223.6 l-4.2 2.6 M1115.2 224.2 l-4.2 2.6 M1118.8 224.8 l-4.2 2.6 M1122.3 225.4 l-4.2 2.6 M1125.9 226 l-4.2 2.6 M1129.4 226.6 l-4.2 2.6 M1133 227.2 l-4.2 2.6 M1136.5 227.8 l-4.2 2.6 M1140.1 228.5 l-4.2 2.6" stroke="#4a4a4a" stroke-width="0.9" fill="none"/></g>
<path class="k" d="M672 252.9 L1004.4 323.7" fill="none" stroke-width="0.9" stroke="#151515" />
<path class="k" d="M1004.4 323.7 Q1000.4 328 1000.7 335.2" stroke-width="0.9" stroke="#151515" fill="none" />
<path class="k" d="M703.2 237.8 L1030 305.6" fill="none" stroke-width="0.9" stroke="#151515" />
<path class="k" d="M1004.4 324 L1121.8 241.9" fill="none" stroke-width="1.5" stroke="#222" />
<path class="k" d="M1124.5 240.7 L1124.5 250.1" fill="none" stroke-width="0.8" stroke="#151515" />
<path class="k" d="M1148.9 224.8 L1140.4 229.3 Q1136 236 1130.5 238.4 Q1128 239.2 1126.2 239.2" stroke-width="0.8" stroke="#151515" fill="none" />
<ellipse cx="819.7" cy="233.3" rx="53.2" ry="15.4" fill="none" stroke="#222" stroke-width="0.9"/>
<ellipse cx="927.3" cy="226.2" rx="40.4" ry="11.3" fill="none" stroke="#222" stroke-width="0.9"/>
<ellipse cx="972.9" cy="262.8" rx="58.5" ry="18.2" fill="none" stroke="#222" stroke-width="0.9"/>
</g>
<path class="k" d="M 664.6 1546.1 L 664.6 1538.3 Q 665 1535.5 667.4 1535.5 Q 670.2 1535.9 670.2 1538.8 L 670.2 1547.3 Z" stroke-width="0.9" stroke="#222" fill="#ddd" />
<path class="k" d="M 674 1548.5 L 674 1543 Q 675.2 1541.1 677.6 1541.6 Q 679.2 1542.1 679.2 1544 L 679.2 1550.1 Z" stroke-width="0.9" stroke="#222" fill="#ddd" />
<path class="k" d="M 666.5 1539 L 666.5 1543.7 M 668.3 1539 L 668.3 1544.2" stroke-width="0.6" stroke="#444" fill="none" />
<path class="k" d="M 951.6 1626.6 L 951.6 1618.8 Q 952.5 1615.7 954.8 1615.7 Q 957.5 1616.2 957.5 1619.2 L 957.5 1628.4 Z" stroke-width="0.9" stroke="#222" fill="#ddd" />
<path class="k" d="M 953.4 1619.2 L 953.4 1625.8 M 955.5 1619.2 L 955.5 1626.4" stroke-width="0.6" stroke="#444" fill="none" />
<path class="k" d="M 957.5 1622.6 L 964.8 1619.7 L 960.3 1624.4 L 960.3 1629.2" stroke-width="0.9" stroke="#222" fill="none" />
<polygon points="651.6,1548.5 657.5,1544.4 966.4,1630.1 967.2,1653.5 961.2,1658.7 651.6,1566.2" fill="#a8a8a8" stroke="#111" stroke-width="1.15" stroke-linejoin="round" />
<path class="k" d="M651.6 1548.5 L961.2 1634.4 L966.4 1630.1" fill="none" stroke-width="0.9" stroke="#222" />
<path class="k" d="M961.2 1634.4 L961.2 1658.7" fill="none" stroke-width="0.9" stroke="#222" />
<rect class="t" x="689.5" y="1623.1" width="11.4" height="11.5"/><rect class="t" x="706.5" y="1623.1" width="11.4" height="11.5"/><rect class="t" x="723.1" y="1623.1" width="11.4" height="11.5"/><rect class="t" x="739.6" y="1623.1" width="11.4" height="11.5"/>
<circle cx="779.7" cy="1603.5" r="4.3" fill="#fff"/>
<path class="k" d="M756.8 1626.5 L779.7 1626.5 L779.7 1604" fill="none" stroke-width="1.1" stroke="#000" style="stroke-linejoin:miter"/>
<circle cx="779.7" cy="1603.5" r="2.8" fill="#111"/>
<polygon points="830.2,1552.6 802,1557.4 810.8,1560.1 807.2,1563.7 821.6,1567.7 826.1,1564.1 835.4,1566.7" fill="#000" stroke="none" stroke-width="1" stroke-linejoin="round" />
<polygon points="804.4,1565.3 819,1569.6 816.4,1572.9 801.1,1568.2" fill="#000" stroke="none" stroke-width="1" stroke-linejoin="round" />
<polygon points="799.2,1570.1 814.1,1574.6 811.5,1576.9 796.8,1572.4" fill="#000" stroke="none" stroke-width="1" stroke-linejoin="round" />
<polygon points="794.9,1573.9 809.6,1578.1 808.2,1579.8 793.3,1575.4" fill="#000" stroke="none" stroke-width="1" stroke-linejoin="round" />
<path class="k" d="M584.9 1598.1 L584.9 1338.8 L135.5 1338.8 L135.5 1647.6 L584.9 1647.6 L584.9 1617 L674.7 1576.8 Z" stroke-width="1.5" stroke="#000" fill="none" style="stroke-linejoin:miter"/>
<!-- 30_box5.py -->
<path class="k" d="M265.3 1412.8 L321.6 1379.6" fill="none" stroke-width="0.8" stroke="#111" />
<ellipse cx="324.1" cy="1378.1" rx="1.8" ry="2.7" fill="#fff" stroke="#333" stroke-width="0.8" transform="rotate(-30 324.1 1378.1)"/>
<path class="k" d="M 264.3 1422.7 L 273.1 1416.6 Q 275.6 1415.8 278.8 1416.4 L 284.4 1420.2 L 284.4 1448.5 L 264.3 1439.7 Z" stroke-width="1.2" stroke="#111" fill="#fff" />
<path class="k" d="M 264.3 1422.7 L 270.6 1427.1 L 284.4 1420.2 M 270.6 1427.1 L 270.6 1435.3 L 264.3 1439.3" stroke-width="1.0" stroke="#111" fill="none" />
<polygon points="215.7,1435.3 235.3,1423.3 237.2,1420.8 239.3,1421.7 264.3,1439.7 422,1530.6 447.2,1540.7 451,1547 432.7,1559.6" fill="#fff" stroke="none" stroke-width="1" stroke-linejoin="round" />
<polygon points="215.7,1435.3 432.7,1559.6 432.7,1606.9 215.7,1482.6" fill="#fff" stroke="none" stroke-width="1" stroke-linejoin="round" />
<polygon points="432.7,1559.6 451,1547 451,1596.8 432.7,1606.9" fill="#fff" stroke="none" stroke-width="1" stroke-linejoin="round" />
<path class="k" d="M239.3 1421.7 L237.2 1420.8 L235.3 1423.3 L215.7 1435.3 L215.7 1482.6 L432.7 1606.9 L451 1596.8 L451 1547" fill="none" stroke-width="1.5" stroke="#111" />
<path class="k" d="M451 1547 Q450.7 1542.6 446.5 1540.4" stroke-width="1.5" stroke="#111" fill="none" />
<path class="k" d="M264.6 1437.9 L422.1 1528.1" fill="none" stroke-width="1.6" stroke="#111" />
<path class="k" d="M265.3 1441.9 L448.4 1548.3" fill="none" stroke-width="0.9" stroke="#111" />
<path class="k" d="M215.7 1435.3 L432.7 1559.6" fill="none" stroke-width="0.9" stroke="#111" />
<path class="k" d="M236.5 1424 L263 1439.3" fill="none" stroke-width="0.9" stroke="#111" />
<path class="k" d="M432.7 1559.6 L451 1547" fill="none" stroke-width="0.9" stroke="#111" />
<path class="k" d="M432.7 1559.6 L432.7 1606.9" fill="none" stroke-width="0.9" stroke="#555" />
<path class="k" d="M433.9 1560 L433.9 1606" fill="none" stroke-width="0.6" stroke="#aaa" />
<path class="k" d="M 256.1 1430.3 L 256.1 1413.2 Q 256.7 1410.1 259.5 1410.8 Q 263 1412.1 263.3 1415.8 L 263.6 1439.7 Z" stroke-width="1.3" stroke="#111" fill="#fff" />
<path class="k" d="M 256.1 1413.2 L 256.1 1430.3 L 245.3 1424.2" stroke-width="1.5" stroke="#111" fill="none" />
<ellipse cx="259.6" cy="1416.1" rx="1.5" ry="2.0" fill="#fff" stroke="#222" stroke-width="0.8"/>
<path class="k" d="M217.6 1441.6 L259.5 1416.1" fill="none" stroke-width="0.8" stroke="#111" />
<path class="k" d="M 430.2 1519.3 L 442.8 1512.3 L 450.7 1517.4 Q 449.7 1519.3 440.9 1523 L 431 1521.2 Z" stroke-width="1.1" stroke="#111" fill="#fff" />
<path class="k" d="M 440.9 1523 L 440.9 1536.9 M 444 1521.8 L 444 1538.8" stroke-width="1.0" stroke="#111" fill="none" />
<path class="k" d="M 422.6 1533.1 L 422.2 1511.1 Q 422.6 1506.9 426 1507.7 Q 429.8 1508.9 430 1513 L 430.3 1530.6 Q 432 1534.4 447.2 1540.7" stroke-width="1.3" stroke="#111" fill="none" />
<path class="k" d="M 422.6 1533.1 L 422.2 1511.1 Q 422.6 1506.9 426 1507.7 Q 429.8 1508.9 430 1513 L 430.3 1530.6 L 432.7 1535.7 Z" stroke-width="0.1" stroke="#111" fill="#fff" />
<ellipse cx="426.4" cy="1512.7" rx="2.0" ry="2.5" fill="#fff" stroke="#222" stroke-width="0.8"/>
<path class="k" d="M331.9 1473 L331.9 1553.6" fill="none" stroke-width="1" stroke="#111" />
<path class="k" d="M335.4 1474.5 L335.4 1555.6" fill="none" stroke-width="1" stroke="#111" />
<path class="k" d="M333.6 1474 L333.6 1554.3" fill="none" stroke-width="2.4" stroke="#fff" style="stroke-linecap:butt"/>
<path class="k" d="M331.9 1473 L331.9 1553.6" fill="none" stroke-width="1" stroke="#111" />
<path class="k" d="M335.4 1474.5 L335.4 1555.6" fill="none" stroke-width="1" stroke="#111" />
<path class="k" d="M382.2 1538.8 L426.4 1512.7" fill="none" stroke-width="0.8" stroke="#111" />
<path class="k" d="M432 1509.8 L452.8 1497.8" fill="none" stroke-width="0.8" stroke="#111" />
<path class="k" d="M468 1487.1 L488.8 1474.9" fill="none" stroke-width="0.8" stroke="#111" />
<ellipse cx="490.3" cy="1474.1" rx="2.0" ry="2.8" fill="#fff" stroke="#333" stroke-width="0.8" transform="rotate(-30 490.3 1474.1)"/>
<path class="k" d="M 451 1491.3 Q 454.1 1487.1 459.8 1485.8 Q 464.8 1485.8 467.1 1490.3 Q 467.6 1494.7 464.8 1497.8 L 457.3 1503.1 Q 453.5 1502.9 451.6 1499.1 Q 448.7 1495.3 451 1491.3 Z" stroke-width="1.2" stroke="#111" fill="#fff" />
<ellipse cx="454.1" cy="1496.6" rx="4.2" ry="6.2" fill="#fff" stroke="#111" stroke-width="1.1" transform="rotate(-32 454.1 1496.6)"/>
<ellipse cx="454.4" cy="1496.6" rx="2.3" ry="3.8" fill="#fff" stroke="#111" stroke-width="0.9" transform="rotate(-32 454.4 1496.6)"/>
<polygon points="198.7,1455.3 217.7,1445.4 218.1,1442.9 215.9,1441.8 196.7,1451.4" fill="#fff" stroke="#111" stroke-width="1.1" stroke-linejoin="round" /><path d="M200.8 1454.2 L199.5 1449.9 M202.9 1453.1 L201.7 1448.8 M205.1 1452 L203.8 1447.7 M207.2 1450.9 L205.9 1446.7 M209.4 1449.9 L208.1 1445.6 M211.5 1448.8 L210.2 1444.5 M213.6 1447.7 L212.3 1443.4 M215.8 1446.6 L214.5 1442.3" stroke="#111" stroke-width="0.9" fill="none"/><ellipse cx="193.2" cy="1455.6" rx="3.6" ry="6.0" fill="#fff" stroke="#111" stroke-width="1.3" transform="rotate(-15 193.2 1455.6)"/><path d="M191.4 1455.2 l3 1.4 M193.4 1453.7 l-0.8 3.6" stroke="#222" stroke-width="0.8" fill="none"/><path class="k" d="M197.1 1459.9 Q197.7 1454.8 198.7 1455.3" stroke-width="1.0" stroke="#111" fill="none" /><path class="k" d="M192 1449.9 Q196.8 1451.8 196.7 1451.4" stroke-width="1.0" stroke="#111" fill="none" />
<polygon points="362.1,1552.2 382.9,1541.3 383.3,1538.8 381.1,1537.7 360,1548.3" fill="#fff" stroke="#111" stroke-width="1.1" stroke-linejoin="round" /><path d="M364.2 1551.1 L362.9 1546.8 M366.3 1550 L365 1545.7 M368.5 1548.9 L367.2 1544.6 M370.6 1547.8 L369.3 1543.5 M372.7 1546.7 L371.4 1542.4 M374.9 1545.6 L373.6 1541.3 M377 1544.5 L375.7 1540.2 M379.1 1543.4 L377.9 1539.2 M381.3 1542.3 L380 1538.1" stroke="#111" stroke-width="0.9" fill="none"/><ellipse cx="356.6" cy="1552.5" rx="3.6" ry="6.0" fill="#fff" stroke="#111" stroke-width="1.3" transform="rotate(-15.1 356.6 1552.5)"/><path d="M354.8 1552.1 l3 1.4 M356.8 1550.6 l-0.8 3.6" stroke="#222" stroke-width="0.8" fill="none"/><path class="k" d="M360.5 1556.8 Q361.1 1551.7 362.1 1552.2" stroke-width="1.0" stroke="#111" fill="none" /><path class="k" d="M355.4 1546.8 Q360.2 1548.7 360 1548.3" stroke-width="1.0" stroke="#111" fill="none" />
<circle cx="458.3" cy="1485.6" r="2.8" fill="#111"/>
<circle cx="315.3" cy="1540.5" r="2.8" fill="#111"/>
<circle cx="358.4" cy="1559.9" r="2.8" fill="#111"/>
<!-- 40_box1.py -->
<path class="k" d="M 167.9 281.2 L 189.7 290.6 L 220.3 272.9" stroke-width="1.0" stroke="#111" fill="none" />
<path class="k" d="M 167.9 285.6 L 188.9 293.9" stroke-width="1.0" stroke="#111" fill="none" />
<path class="k" d="M 188.4 293.9 L 188.4 301.7 M 189.1 294.1 Q 198.8 295.6 203.3 304.3" stroke-width="0.8" stroke="#111" fill="none" />
<path class="k" d="M 167.4 294.8 L 199.6 306 Q 203.8 307.2 207.9 304.7 L 261.7 272.4" stroke-width="1.7" stroke="#111" fill="none" />
<path class="k" d="M 241 287.3 L 253.9 290.6 L 284 272.9 M 253.9 279 L 253.9 290.6" stroke-width="1.0" stroke="#111" fill="none" />
<path class="k" d="M 266.7 301.4 L 313.8 273.2" stroke-width="1.0" stroke="#111" fill="none" />
<path class="k" d="M 291.5 308 L 340 276.5" stroke-width="1.0" stroke="#111" fill="none" />
<path class="k" d="M 340 289.8 L 304.7 314.6 Q 301.4 321.2 301.4 331.2 L 299.4 380" stroke-width="1.0" stroke="#111" fill="none" />
<path class="k" d="M 299.4 379.9 L 299.8 388.2" stroke-width="1.0" stroke="#111" fill="none" />
<path class="k" d="M 226.1 294.8 L 250.9 301 M 234.4 295.6 L 234.9 298.4" stroke-width="1.0" stroke="#111" fill="none" />
<path class="k" d="M 196.3 307.2 L 221.2 339.4 Q 223.6 346 223.6 359.3 L 223.6 380" stroke-width="1.0" stroke="#111" fill="none" />
<path class="k" d="M 223.6 379.9 L 222.8 413.9 Q 221.2 418.3 216.2 417.2 L 169 399" stroke-width="1.0" stroke="#111" fill="none" />
<path class="k" d="M 224.8 379.9 L 224.1 414.7 Q 222.8 420.5 216.2 419.6 L 169 403.1" stroke-width="1.0" stroke="#111" fill="none" />
<path class="k" d="M 207.9 306.3 Q 214.5 311.3 227.8 317.1 Q 233.6 320.4 233.6 329.5 L 234.4 380" stroke-width="1.0" stroke="#111" fill="none" />
<path class="k" d="M 234.4 379.9 L 234.4 432.9 Q 235.2 437 239.4 437 Q 244.3 437 244.7 432.9 L 245.2 379.9" stroke-width="1.0" stroke="#111" fill="none" />
<path class="k" d="M 245.2 380 L 244.3 326.2 Q 243.5 314.6 217.8 301" stroke-width="1.0" stroke="#111" fill="none" />
<path class="k" d="M 250.9 380 L 250.9 301 L 285.7 308.3" stroke-width="1.7" stroke="#111" fill="none" />
<path class="k" d="M 250.9 379.9 L 250.9 456" stroke-width="1.7" stroke="#111" fill="none" />
<path class="k" d="M 265.8 303.4 L 288.2 308.3" stroke-width="2.0" stroke="#333" fill="none" />
<path class="k" d="M 169 427.1 L 250.9 456 L 265.8 462.7" stroke-width="1.8" stroke="#111" fill="none" />
<path class="k" d="M 265 325.4 L 258.4 326.2 Q 255.9 327 255.9 330.3 L 255.9 357.6 Q 256.7 360.1 265 362.9" stroke-width="1.0" stroke="#111" fill="none" />
<path class="k" d="M 258.4 332.8 L 265.5 334.5 M 255.9 343.6 L 265.5 345.7 M 258.4 355.2 L 265 356.8" stroke-width="2.0" stroke="#111" fill="none" />
<path class="k" d="M 265 413.9 L 257.9 414.7 Q 255.1 416.3 255.1 419.6 L 255.9 442.8 L 265 447.4" stroke-width="1.0" stroke="#111" fill="none" />
<path class="k" d="M 258.4 421.3 L 265.5 423.3 M 255.9 431.2 L 265.5 433.7 M 257.2 441.2 L 265.5 444.1" stroke-width="2.2" stroke="#111" fill="none" />
<polygon points="265.8,318.2 279.1,312.6 290.7,308.3 289.3,466 286.5,480.9 281.6,480.9 278.2,472.6 272.1,472.9 268.3,479.2 265,479.2" fill="#fff" stroke="none" stroke-width="1" stroke-linejoin="round" />
<path class="k" d="M 265.8 380 L 265.8 318.2 L 278.2 313 L 282.4 309.6 L 290.3 308 L 291 316.3 L 290.7 380" stroke-width="1.6" stroke="#111" fill="none" />
<path class="k" d="M 265.8 379.9 L 265 479.2 L 268.3 479.2 L 272.5 472.9 L 278.2 472.9 L 281.6 480.9 L 286.5 480.9 L 287 379.9" stroke-width="1.6" stroke="#111" fill="none" />
<path class="k" d="M 290.7 379.9 L 289.3 465.2" stroke-width="1.6" stroke="#111" fill="none" />
<path class="k" d="M 269.1 380 L 269.1 319.9 L 279.1 315.4 L 279.1 380" stroke-width="1.0" stroke="#111" fill="none" />
<path class="k" d="M 269.1 379.9 L 268.5 478.4 M 279.1 379.9 L 278.4 472.6" stroke-width="1.0" stroke="#111" fill="none" />
<path class="k" d="M 272.1 380 L 272.1 317.9 M 283.2 380 L 283.2 315.4 L 277.4 317.1 M 286 380 L 286 312.6" stroke-width="1.0" stroke="#111" fill="none" />
<path class="k" d="M 272.1 379.9 L 272.1 472.6 M 283.2 379.9 L 282.1 480" stroke-width="1.0" stroke="#111" fill="none" />
<path class="k" d="M 286 379.9 L 286 480.5" stroke-width="1.6" stroke="#111" fill="none" />
<path class="k" d="M 280.7 309.6 L 280.7 317.1 L 284.9 318.2 L 284.9 312.6 M 282.4 309.6 L 287.3 311.6" stroke-width="0.8" stroke="#111" fill="none" />
<path class="k" d="M 272.5 472.9 L 273.3 469.3 L 277.4 469.3 L 278.2 472.9" stroke-width="0.8" stroke="#111" fill="none" />
<path class="k" d="M 289.2 451.3 L 292.5 447.7 L 294.4 453.2 L 296.7 453.2 L 300.5 449.9 M 289.2 451.3 L 289.6 463.1 L 293 467.9 L 301.5 470.2 Q 303.4 470 305.2 468.3 L 339.3 440" stroke-width="1.0" stroke="#111" fill="none" />
<path class="k" d="M 305.2 468.3 L 339.3 439.5" stroke-width="2.0" stroke="#111" fill="none" />
<path class="k" d="M 290.6 463.1 Q 291.5 460.8 294.4 462.2 Q 296.3 463.6 296.7 468.3 M 294.4 462.2 L 339.3 435.2" stroke-width="1.0" stroke="#111" fill="none" />
<path class="k" d="M 296.7 453.2 L 339.3 421.1 M 300.5 449.9 L 339.3 423 M 289.6 463.1 L 291.5 461.3" stroke-width="1.0" stroke="#111" fill="none" />
<path class="k" d="M 296.7 453.2 Q 295.3 451.3 295.8 414.4 Q 296.7 409.7 302.4 407.4 L 305.2 405.5 M 300.5 449.9 L 300.5 414.4 Q 301 412.1 305.2 409.7" stroke-width="1.0" stroke="#111" fill="none" />
<path class="k" d="M 301.5 440 Q 301.5 441.9 305.2 440.9 L 339.3 414.4 M 305.2 436.7 L 339.3 411.6 M 302.9 426.7 Q 310 421.1 315.7 414.4 Q 319.4 409.7 325.1 407.4 L 339.3 397.4 M 302.4 426.7 L 302.9 435.2 L 305.2 436.7" stroke-width="1.0" stroke="#111" fill="none" />
<path class="k" d="M 305.2 405.5 L 317.5 398.4 L 322.3 395.5 L 339.3 384.2 M 322.3 395.5 L 323.7 389.4 L 330.8 384.4 L 333.1 387.5 L 325.1 393.2 M 334.6 388 L 339.3 388.9" stroke-width="1.0" stroke="#111" fill="none" />
<path class="k" d="M 253.2 386.5 Q 261.7 397.4 272.2 392.7 L 271.2 386.1 L 279.2 390.8 L 272.3 407.4 L 272.2 403.1 Q 258 406.4 253.7 398.4 Q 252.8 392.7 253.2 386.5 Z" stroke-width="0.5" stroke="#000" fill="#000" />
<path class="k" d="M 281.1 387.5 Q 289.2 396 305.2 395.1 L 305.2 386.1 L 317.5 399.3 L 304.3 411.6 L 304.3 403.6 Q 284.4 401.7 281.6 394.6 Q 280.7 390.8 281.1 387.5 Z" stroke-width="0.5" stroke="#000" fill="#000" />
<!-- 50_box3.py -->
<path class="k" d="M 893.9 657.4 L 920.7 640.3 Q 924.2 638.2 929.4 639.9 L 958.9 651.4 Q 962.9 653.6 963.2 656.7" stroke-width="1.0" stroke="#111" fill="none" />
<path class="k" d="M 925.4 661.8 L 938.1 662.8 M 928.2 658.3 L 939.8 662.8" stroke-width="0.8" stroke="#111" fill="none" />
<path class="k" d="M 937.2 661.1 Q 945.9 659.7 952.8 662.8" stroke-width="1.0" stroke="#111" fill="none" />
<path class="k" d="M 952.8 660.5 Q 952.8 656.9 957.7 656.7 L 1072.8 682.6 Q 1078 683.9 1078.7 687.8 L 1079 774.1 L 1072.4 780.2 L 1054.2 775.5 L 1054.2 706.5 L 966.7 684.8 L 952.8 666.3 Z" stroke-width="0.1" stroke="#111" fill="#fff" />
<path class="k" d="M 952.8 665.9 Q 952.1 657.2 957.7 656.7 L 1072.8 682.6 Q 1078 683.9 1078.7 687.8 L 1079 774.1 L 1072.4 780.2 L 1054.2 775.5 L 1054.2 706.5" stroke-width="1.3" stroke="#111" fill="none" />
<path class="k" d="M 953.7 661.1 L 1070.4 686 Q 1072.4 686.7 1072.4 689.5 L 1072.4 779.8" stroke-width="1.0" stroke="#111" fill="none" />
<path class="k" d="M 1070.4 686 Q 1073.8 684.8 1075.6 683.6" stroke-width="0.8" stroke="#111" fill="none" />
<path class="k" d="M 966.7 684.8 L 1072.4 709.6" stroke-width="1.5" stroke="#111" fill="none" />
<path class="k" d="M 1054.2 772.7 L 1072.4 777.2" stroke-width="0.8" stroke="#111" fill="none" />
<path class="k" d="M 1056.5 707.4 L 1056.5 773.8 M 1070.7 710.3 L 1070.7 776.9" stroke-width="0.6" stroke="#999" fill="none" />
<path class="k" d="M 1027.4 682.2 L 1043.8 686 L 1043.8 699.5 L 1027.4 695.7 Z" stroke-width="1.0" stroke="#111" fill="none" />
<path class="k" d="M 1029.1 684.8 L 1029.1 695.2" stroke-width="0.7" stroke="#555" fill="none" />
<path class="k" d="M 948.5 666.3 L 970.2 674.1 Q 976.4 676.7 975.2 680.5 Q 973.6 683.6 966.7 681.7 L 948.5 679.8 Q 937.2 683.6 915.5 695.7 L 915.5 677 L 937.2 662.3 Z" stroke-width="0.1" stroke="#fff" fill="#fff" />
<path class="k" d="M 950.2 666.3 L 970.2 674.1 Q 976.4 676.7 975.2 680.5 Q 973.6 683.6 966.7 681.7 L 948.5 679.8 Q 937.2 683.6 915.5 695.7" stroke-width="1.0" stroke="#111" fill="none" />
<path class="k" d="M 967.6 677 Q 966.7 679.1 968.1 681.3 M 967.6 676.7 L 974 677" stroke-width="0.8" stroke="#111" fill="none" />
<path class="k" d="M 965 758.8 Q 970.2 744.6 978.8 736 L 1001.4 697.8 Q 1006.6 676.1 1013.8 674.4 Q 1019 675.3 1018 685.7 L 1012.1 706.5 Q 1012.6 717.2 1020.4 717.9 Q 1027.7 716.9 1029.4 706.5 L 1027.4 693.5 L 1029.4 686 Q 1036.9 691.7 1040.4 706.5 Q 1042.1 718.6 1036.9 729 Q 1032.6 739.4 1027.4 743.2 Q 1004.8 755 994.8 764.7 Z" stroke-width="0.1" stroke="#fff" fill="#fff" />
<path class="k" d="M 965 758.8 Q 970.2 744.6 978.8 736 L 1001.4 697.8 Q 1006.6 676.1 1013.8 674.4 Q 1019 675.3 1018 685.7 L 1012.1 706.5" stroke-width="1.0" stroke="#111" fill="none" />
<path class="k" d="M 994.8 764.7 Q 1004.8 755 1027.4 743.2 Q 1032.6 739.4 1036.9 729 Q 1042.1 718.6 1040.4 706.5 Q 1036.9 691.7 1029.4 686" stroke-width="1.0" stroke="#111" fill="none" />
<path class="k" d="M 978.8 736 Q 979.7 738.6 978 741.5" stroke-width="0.8" stroke="#111" fill="none" />
<path class="k" d="M 1007.4 683.9 Q 1011.8 685.7 1017.3 684.8" stroke-width="0.8" stroke="#111" fill="none" />
<path class="k" d="M 1013.5 707.9 Q 1011.8 716.9 1020.1 718.1 Q 1027.7 717.2 1029.4 706.5 Q 1030.5 699.5 1027.4 694 L 1027.4 688.3" stroke-width="1.0" stroke="#111" fill="none" />
<path class="k" d="M 1014.4 705.1 Q 1020.4 703.4 1028.8 705.1" stroke-width="1.0" stroke="#111" fill="none" />
<path class="k" d="M 1018.7 716 Q 1017 710.8 1020.8 707.9 M 1018.7 716 L 1024.2 718.6" stroke-width="0.9" stroke="#111" fill="none" />
<path class="k" d="M 1029.4 686 Q 1032.6 684.8 1036 690.5" stroke-width="0.8" stroke="#111" fill="none" />
<path class="k" d="M 944.9 667 L 947.5 667 Q 950.3 677 960.1 682.6 L 959.3 678.1 L 968.8 691.4 L 959.1 695.6 L 960.1 692.3 Q 947.5 686.4 944.9 667 Z" stroke-width="0.5" stroke="#000" fill="#111" />
<path class="k" d="M 1000.9 707 L 1008.5 690.7 L 1010.2 695.6 L 1020 688.8 L 1021.5 695.6 L 1013 701.8 L 1011.3 710.5 Z" stroke-width="0.5" stroke="#000" fill="#000" />
<circle cx="946.5" cy="702.3" r="8.0" fill="#fff" stroke="#222" stroke-width="0.9"/><path d="M944.8 699.7 l2.4 -2.6 l0 10.6" fill="none" stroke="#111" stroke-width="1.2"/>
<circle cx="1004.2" cy="722.8" r="8.0" fill="#fff" stroke="#222" stroke-width="0.9"/><text x="1004.2" y="727.9" font-size="14.5" text-anchor="middle" fill="#111">2</text>
<circle cx="992.6" cy="663.2" r="2.7" fill="#111"/>
<!-- 60_box4.py -->
<path class="k" d="M 667.9 985.1 L 764 971.2 M 667.9 992.5 L 763.2 977.9" stroke-width="0.9" stroke="#333" fill="none" />
<path class="k" d="M 667.9 1010.7 L 726.2 1000.4 Q 730.1 1001.2 730.1 1007.5 L 734.1 1017 L 734.1 1091 Q 733.3 1097.3 727.8 1099.7 L 675 1113.9" stroke-width="0.9" stroke="#333" fill="none" />
<path class="k" d="M 667.9 1163.2 L 741.2 1139.9 L 742 1129.6 Q 745.9 1124.9 750.1 1128.5 L 750.8 1137 L 770.3 1130.9" stroke-width="0.9" stroke="#333" fill="none" />
<path class="k" d="M 667.9 1164.8 L 770.3 1132.8 Q 772.7 1133.9 772.2 1138.3 L 667.9 1174.9" stroke-width="0.9" stroke="#333" fill="none" />
<path class="k" d="M 772.2 1135.2 L 786.1 1130.4" stroke-width="1.5" stroke="#111" fill="none" />
<path class="k" d="M 763.2 977.6 L 767.2 1130.4 M 765.6 977.6 L 768.7 1130.1" stroke-width="0.8" stroke="#333" fill="none" />
<path class="k" d="M 764 971.2 L 777.4 974.4 L 777.9 1132" stroke-width="1.0" stroke="#111" fill="none" />
<circle cx="771.6" cy="984.2" r="3.2" fill="#fff" stroke="#222" stroke-width="0.9"/>
<path d="M770.3 982.9 l2.6 2.6 m0 -2.6 l-2.6 2.6" stroke="#222" stroke-width="0.7" fill="none"/>
<circle cx="772.2" cy="1124.1" r="3.2" fill="#fff" stroke="#222" stroke-width="0.9"/>
<path d="M770.9 1122.8 l2.6 2.6 m0 -2.6 l-2.6 2.6" stroke="#222" stroke-width="0.7" fill="none"/>
<path class="k" d="M 770 965 L 770 970.7 L 783.2 974.4 L 784.2 966.9 L 934.5 940.4 Q 942.1 939.8 943 948 L 943 978.2 L 912.8 985.8 L 792.7 1011.7 L 792.7 975.4 Q 791.7 967.8 784.2 966.9 Z" stroke-width="0.1" stroke="#111" fill="#fff" />
<path class="k" d="M 770 964 L 927 938.5" stroke-width="0.9" stroke="#111" fill="none" />
<path class="k" d="M 770 965 L 770 970.7 L 783.2 974.4 L 784.2 966.9 L 934.5 940.4 Q 942.1 939.8 943 948 L 943 978.2 L 912.8 985.8" stroke-width="1.2" stroke="#111" fill="none" />
<path class="k" d="M 784.2 966.9 Q 791.7 967.8 792.7 975.4 L 792.7 1011.3" stroke-width="1.0" stroke="#111" fill="none" />
<path class="k" d="M 895.8 962.2 L 914.7 958.4 L 914.7 981.1 L 895.8 984.8 Z" stroke-width="0.9" stroke="#111" fill="none" />
<path class="k" d="M 932.6 981.4 L 932.6 995.2 M 928.9 982.6 L 928.9 993.4" stroke-width="0.9" stroke="#111" fill="none" />
<path class="k" d="M 770.3 971.2 L 776.6 972.8 L 776.9 976.3" stroke-width="1.6" stroke="#333" fill="none" />
<path class="k" d="M 777.6 1011.7 Q 810.7 1018.9 835.2 1062.4" stroke-width="1.2" stroke="#111" fill="none" />
<path class="k" d="M 777.6 1016.1 Q 806.9 1023.6 830.9 1064.7" stroke-width="0.9" stroke="#111" fill="none" />
<path class="k" d="M 777.6 1021.7 Q 802.2 1030.2 826.7 1066.5" stroke-width="1.2" stroke="#111" fill="none" />
<path class="k" d="M 800 1010.2 L 888.3 992.8 L 900.9 990 M 800 1012.9 L 890.1 995.2" stroke-width="1.0" stroke="#111" fill="none" />
<path class="k" d="M 800 1010.2 Q 823.6 1021.5 842.6 1060.1 M 805.5 1013.6 Q 826 1026.2 846 1059.3" stroke-width="0.9" stroke="#111" fill="none" />
<path class="k" d="M 900.9 990 L 916.6 990 Q 946.6 1002.6 963.9 1023.9" stroke-width="1.0" stroke="#111" fill="none" />
<path class="k" d="M 888.3 995 Q 922.9 1005.8 937.4 1032.2" stroke-width="1.0" stroke="#111" fill="none" />
<path class="k" d="M 805.5 1017.6 L 889.8 999.5 L 904.8 1007.3 L 823.6 1027.8 Z" stroke-width="0.9" stroke="#111" fill="none" />
<path class="k" d="M 806 1017.1 L 890.1 998.8 L 905.3 1006.7" stroke-width="2.2" stroke="#444" fill="none" stroke-dasharray="1.1 1.1" style="stroke-linecap:butt"/>
<polygon points="826,1031 840.2,1027 847.3,1034.1 833.1,1038.5" fill="none" stroke="#222" stroke-width="0.9" stroke-linejoin="round" />
<polygon points="841.3,1026.7 853.6,1023.4 860.7,1030.7 848.1,1034.1" fill="none" stroke="#222" stroke-width="0.9" stroke-linejoin="round" />
<polygon points="855.5,1023.4 867.8,1020.3 874.9,1027 862.3,1030.7" fill="none" stroke="#222" stroke-width="0.9" stroke-linejoin="round" />
<polygon points="837.5,1041.2 851.2,1037.3 857.5,1045.2 844.1,1049.9" fill="none" stroke="#222" stroke-width="0.9" stroke-linejoin="round" />
<polygon points="852.3,1037 865.4,1033.3 872.2,1041.2 858.6,1045.2" fill="none" stroke="#222" stroke-width="0.9" stroke-linejoin="round" />
<polygon points="867.5,1032.9 879.6,1030.2 885.9,1037.3 874.1,1040.7" fill="none" stroke="#222" stroke-width="0.9" stroke-linejoin="round" />
<polygon points="873.3,1019.2 886.7,1016 893.3,1022.8 880.4,1026.2" fill="none" stroke="#222" stroke-width="0.9" stroke-linejoin="round" />
<polygon points="887.6,1015.7 899.3,1013.3 905.6,1019.9 894.1,1022.8" fill="none" stroke="#222" stroke-width="0.9" stroke-linejoin="round" />
<polygon points="900.9,1012.9 912.2,1010.5 918.5,1016.8 907.2,1019.6" fill="none" stroke="#222" stroke-width="0.9" stroke-linejoin="round" />
<polygon points="883.8,1028.6 896.9,1025.5 903.2,1032.6 890.6,1036.5" fill="none" stroke="#222" stroke-width="0.9" stroke-linejoin="round" />
<polygon points="897.7,1025 909.5,1022.3 915.8,1029.4 904,1032.2" fill="none" stroke="#222" stroke-width="0.9" stroke-linejoin="round" />
<polygon points="911.1,1021.8 922.9,1019.2 929.2,1025.9 917.4,1029.1" fill="none" stroke="#222" stroke-width="0.9" stroke-linejoin="round" />
<polygon points="916.6,1009.2 927.7,1007 933.2,1012.9 922.6,1015.2" fill="none" stroke="#222" stroke-width="0.9" stroke-linejoin="round" />
<polygon points="928.9,1006.5 939.5,1004.2 944.7,1010.2 934.3,1012.5" fill="none" stroke="#222" stroke-width="0.9" stroke-linejoin="round" />
<polygon points="926.1,1017.6 937.1,1015.2 942.6,1021.2 932.1,1023.9" fill="none" stroke="#222" stroke-width="0.9" stroke-linejoin="round" />
<polygon points="938.7,1014.9 949.4,1012.4 954.8,1018.4 944.2,1020.9" fill="none" stroke="#222" stroke-width="0.9" stroke-linejoin="round" />
<path class="k" d="M 842.9 1059 L 963.9 1023.4 L 989.1 1018.1" stroke-width="2.6" stroke="#444" fill="none" stroke-dasharray="1.1 1.1" style="stroke-linecap:butt"/>
<path class="k" d="M 844.1 1060.5 Q 840.4 1061.4 836.2 1066.2 L 784.8 1132.4 L 932.6 1086 L 989.4 1021.2 L 986.5 1018.9 Z" stroke-width="0.1" stroke="#111" fill="#fff" />
<path class="k" d="M 844.1 1060.9 L 989.4 1021.5 L 932.6 1086 L 788 1131.4" stroke-width="1.2" stroke="#111" fill="none" />
<path class="k" d="M 842.8 1059.2 L 986.5 1018.9 L 989.4 1021.5" stroke-width="1.0" stroke="#111" fill="none" />
<path class="k" d="M 844.1 1060.9 Q 840.4 1061.4 836.2 1066.2 L 784.2 1132.7" stroke-width="1.2" stroke="#111" fill="none" />
<path class="k" d="M 840.4 1060.5 L 781.7 1132 M 837.1 1060.5 L 792.7 1116.3" stroke-width="0.9" stroke="#111" fill="none" />
<path class="k" d="M 781.7 1132 L 798.4 1111.6 M 783.2 1133.3 L 800.3 1112.5" stroke-width="1.6" stroke="#333" fill="none" />
<path class="k" d="M 818.4 1063 L 822.3 1059.2 L 831.8 1069 L 827.4 1073.7 M 818.4 1063 L 815.2 1069 L 818.4 1073.7 L 802.6 1102.1 L 798.7 1100.5 L 794 1095.8 L 788.4 1100.5 L 789.6 1106 L 797.1 1114.7" stroke-width="1.6" stroke="#111" fill="none" />
<path class="k" d="M 821.1 1063.4 L 817.9 1069 L 821.1 1073.7 L 805.3 1102.4 L 798.7 1103.6 L 794.3 1099.2 L 791.6 1101.7 L 792.7 1106.8 L 798.7 1113.1" stroke-width="0.9" stroke="#111" fill="none" />
<path class="k" d="M 672.6 1032.7 Q 691.5 1037.4 698.6 1045.3 L 725.4 1047.2 L 729.3 1051.6 L 809.7 1058.7 L 819.2 1062.7 L 817.6 1066.1 L 808.1 1065 L 729.3 1057.9 L 725.4 1064.6 L 698.6 1063.9 Q 691.5 1068.2 672.6 1069.8 Z" stroke-width="0.1" stroke="#fff" fill="#fff" />
<path class="k" d="M 672.6 1032.7 Q 691.5 1037.4 698.6 1045.3 L 698.6 1063.9 Q 691.5 1068.2 672.6 1069.8" stroke-width="1.3" stroke="#111" fill="none" />
<path class="k" d="M 672.6 1032.7 Q 691.5 1037.4 698.6 1045.3" stroke-width="1.8" stroke="#111" fill="none" />
<path class="k" d="M 672.6 1069.8 Q 691.5 1068.2 698.6 1063.9" stroke-width="1.8" stroke="#111" fill="none" />
<path class="k" d="M 698.6 1045 L 724.9 1047.2 M 695.5 1063.9 L 724.6 1064.6" stroke-width="1.1" stroke="#111" fill="none" />
<ellipse cx="727" cy="1055.6" rx="2.3" ry="9.6" fill="#fff" stroke="#111" stroke-width="1.1" transform="rotate(3 727 1055.6)"/>
<path class="k" d="M 729.3 1051.6 L 809.7 1058.7 L 819.2 1062.7 L 817.6 1066.1 L 808.1 1065 L 729.3 1057.9" stroke-width="1.3" stroke="#111" fill="none" />
<path class="k" d="M 809.7 1058.7 L 808.1 1065" stroke-width="0.9" stroke="#111" fill="none" />
<path class="k" d="M 754.6 1071.5 L 791.1 1073.7 L 789.2 1068.2 L 805.3 1078.7 L 789.2 1088.2 L 791.6 1080.8 L 754.6 1078.4 Z" stroke-width="0.5" stroke="#000" fill="#000" />
<circle cx="714.7" cy="1063.4" r="2.6" fill="#111"/>
<path class="k" d="M714.7 1063.4 L714.7 1087.5 L699.1 1087.5" fill="none" stroke-width="1.1" stroke="#000" style="stroke-linejoin:miter"/>
<path class="k" d="M794.7 1108 L794.7 1146.3 L841.5 1146.3" fill="none" stroke-width="1.1" stroke="#000" style="stroke-linejoin:miter"/>
<path class="k" d="M823.4 1074 L823.4 1146.3" fill="none" stroke-width="1.1" stroke="#000" />
<polygon points="794.7,1104.6 791.3,1115.1 794.7,1112.4 798.1,1115.1" fill="#000" stroke="none" stroke-width="1" stroke-linejoin="round" />
<polygon points="823.4,1070.6 820,1081.1 823.4,1078.4 826.8,1081.1" fill="#000" stroke="none" stroke-width="1" stroke-linejoin="round" />
<circle cx="940.6" cy="1003.8" r="4.2" fill="#fff"/>
<path class="k" d="M951.7 988.2 L940.4 988.2 L940.4 1004" fill="none" stroke-width="1.1" stroke="#000" style="stroke-linejoin:miter"/>
<circle cx="940.6" cy="1003.8" r="2.7" fill="#111"/>
<circle cx="870.6" cy="1106.3" r="4.2" fill="#fff"/>
<path class="k" d="M886.6 1122.2 L870.5 1122.2 L870.5 1106.8" fill="none" stroke-width="1.1" stroke="#000" style="stroke-linejoin:miter"/>
<circle cx="870.6" cy="1106.3" r="2.7" fill="#111"/>
<rect class="t" x="606.6" y="1082.4" width="11.3" height="11.7"/><rect class="t" x="618.3" y="1082.4" width="11.3" height="11.7"/><rect class="t" x="633.5" y="1082.4" width="11.3" height="11.7"/><rect class="t" x="648.8" y="1082.4" width="11.3" height="11.7"/><rect class="t" x="664.1" y="1082.4" width="11.3" height="11.7"/><rect class="t" x="680.7" y="1082.4" width="11.3" height="11.7"/>
<rect class="t" x="955.1" y="982.7" width="11.2" height="11.2"/><rect class="t" x="971.7" y="982.7" width="11.2" height="11.2"/><rect class="t" x="988.8" y="982.7" width="11.2" height="11.2"/>
<rect class="t" x="889.8" y="1116.8" width="11" height="10.7"/><rect class="t" x="906.8" y="1116.8" width="11" height="10.7"/><rect class="t" x="923.3" y="1116.8" width="11" height="10.7"/><rect class="t" x="939.8" y="1116.8" width="11" height="10.7"/><rect class="t" x="956.2" y="1116.8" width="11" height="10.7"/><rect class="t" x="973" y="1116.8" width="11" height="10.7"/>
<rect class="t" x="843.9" y="1139.8" width="11" height="10.9"/><rect class="t" x="860.4" y="1139.8" width="11" height="10.9"/>
<!-- 70_box2.py -->
<defs><linearGradient id="glass" x1="0" y1="0" x2="1" y2="0"><stop offset="0" stop-color="#d8d8d8"/><stop offset="0.45" stop-color="#fbfbfb"/><stop offset="1" stop-color="#e4e4e4"/></linearGradient><linearGradient id="cyl" x1="0" y1="0" x2="0.4" y2="1"><stop offset="0" stop-color="#8a8a8a"/><stop offset="0.5" stop-color="#c8c8c8"/><stop offset="1" stop-color="#9a9a9a"/></linearGradient><linearGradient id="bar" x1="0" y1="0" x2="1" y2="1"><stop offset="0" stop-color="#f4f4f4"/><stop offset="1" stop-color="#c9c9c9"/></linearGradient></defs>
<path class="k" d="M511.9 800.5 L322 893" fill="none" stroke-width="0.9" stroke="#111" />
<path class="k" d="M 244.5 821.8 L 251.4 815.5 L 266.5 809.2 L 268 804.1 L 272.8 802.9 L 276.6 806 L 322 786.5 L 329.6 791.5 L 348.5 796.6 L 272.8 830.6 L 264.6 832.5 L 251.4 823 Z" stroke-width="0.1" stroke="#111" fill="#d2d2d2" />
<path class="k" d="M 251.4 815.5 L 266.5 809.2 L 268 804.1 Q 270.3 802.2 272.8 802.9 L 276.6 806 L 322 786.5" stroke-width="1.1" stroke="#111" fill="none" />
<path class="k" d="M 252 817 L 322 788" stroke-width="2.2" stroke="#555" fill="none" stroke-dasharray="0.9 1.2" style="stroke-linecap:butt"/>
<path class="k" d="M 272.8 830.6 L 348.5 796.6 M 276.6 825.6 L 343.4 795.3" stroke-width="1.0" stroke="#111" fill="none" />
<path class="k" d="M 322 786.5 L 329.6 791.5 L 332.1 790.3 L 335.9 793 M 330.8 793.8 Q 332.1 791.5 334.6 793 Q 335.9 794.7 333.3 795.3" stroke-width="1.0" stroke="#111" fill="none" />
<circle cx="271.6" cy="806.9" r="1.8" fill="#fff" stroke="#222" stroke-width="0.8"/>
<path class="k" d="M 300.6 814.5 L 302.5 805.1 L 317 798.1 L 322 796.6 L 321 804.4 L 319.5 805.6 L 317.6 800.1 L 303.7 806.9 L 302.5 813.6" stroke-width="1.1" stroke="#111" fill="#e4e4e4" />
<path class="k" d="M 342.2 777 L 346 772 L 350.4 769.5 L 352.9 772 L 375 765 L 376.2 766.9 L 368.7 773.9 L 367.4 783.3" stroke-width="1.0" stroke="#111" fill="#d8d8d8" />
<path class="k" d="M 352.9 772.4 L 374.3 765.7" stroke-width="2.0" stroke="#555" fill="none" stroke-dasharray="0.9 1.2" style="stroke-linecap:butt"/>
<path class="k" d="M 351.6 780.2 Q 352.9 776.4 356.7 777 Q 359.2 778.3 357.9 780.8" stroke-width="1.0" stroke="#111" fill="none" />
<path class="k" d="M 243.8 822 Q 247 819.3 251.4 820.3 L 251.4 823 L 249.9 824.9 L 250.1 842 L 245.3 840.7 Z" stroke-width="1.4" stroke="#111" fill="#bdbdbd" />
<circle cx="249.9" cy="820.8" r="1.6" fill="#eee" stroke="#222" stroke-width="0.8"/>
<path class="k" d="M 251.4 823 L 264.6 832.1 L 349.1 877 L 346 879.8 L 262.1 833.4 L 250.1 825.3 Z" stroke-width="0.1" stroke="#111" fill="#f3f3f3" />
<path class="k" d="M 250.1 825.3 L 262.1 833.4 L 262.1 848.3 L 250.1 841.7 Z" stroke-width="1.0" stroke="#111" fill="#e2e2e2" />
<path class="k" d="M 262.1 833.4 L 346 879.8 L 328.9 889.2 L 262.1 848.3 Z" stroke-width="0.9" stroke="#444" fill="url(#bar)" />
<path class="k" d="M 253.9 823.7 L 349.1 876.6" stroke-width="1.6" stroke="#111" fill="none" />
<path class="k" d="M 250.1 841.7 L 262.1 848.3 L 328.9 889.2" stroke-width="1.8" stroke="#111" fill="none" />
<circle cx="255.4" cy="837.5" r="2.1" fill="#eee" stroke="#222" stroke-width="0.9"/>
<path class="k" d="M 278.5 817.4 Q 279.1 809.8 284.8 806.4 Q 291.7 805.1 294.3 823 L 297 830.6 L 366.1 871" stroke-width="3.2" stroke="#111" fill="none" />
<path class="k" d="M 278.5 817.4 Q 279.1 809.8 284.8 806.4 Q 291.7 805.1 294.3 823 L 297 830.6 L 366.1 871" stroke-width="1.4" stroke="#fff" fill="none" />
<path class="k" d="M 279.1 816.7 Q 282.9 819.3 285.4 815.5 M 281.7 815.5 Q 284.2 810.4 288 813 L 289.2 815.5" stroke-width="1.0" stroke="#111" fill="none" />
<polygon points="224,673.8 395.2,620.2 400.2,631.5 399,714.1 383.8,720.4 376.9,721.7 218.4,790 213.3,786.9 212.7,753.5" fill="#dedede" stroke="#111" stroke-width="1.0" stroke-linejoin="round" />
<polygon points="225.9,677.8 394.6,622.4 396.1,625.8 227.8,682.6" fill="#efefef" stroke="none" stroke-width="1" stroke-linejoin="round" />
<path class="k" d="M226.6 680.1 L395.3 624" fill="none" stroke-width="3" stroke="#555" stroke-dasharray="0.9 1.0" style="stroke-linecap:butt"/>
<path class="k" d="M225.9 677.8 L394.6 622.2" fill="none" stroke-width="0.8" stroke="#111" />
<path class="k" d="M227.8 682.6 L396.3 626.2" fill="none" stroke-width="0.8" stroke="#111" />
<path class="k" d="M230.3 686.4 L397.1 629.3" fill="none" stroke-width="0.8" stroke="#444" />
<path class="k" d="M231.6 690.2 L383.2 640.6" fill="none" stroke-width="0.8" stroke="#444" />
<path class="k" d="M245.1 779.3 L245.1 699.3 Q245.5 690.4 253.7 688.7 L377.2 643.6 Q379.2 642.9 379.2 645.6 L379.2 683.8" stroke-width="10.5" stroke="#6c6c6c" fill="none" style="stroke-linecap:butt"/>
<path class="k" d="M247.4 778.7 L247.4 700.5 Q247.7 693 254.9 690.9 L375.4 646.4 Q377.2 645.9 377.2 647.9 L377.2 683.8" stroke-width="5.0" stroke="#a6a6a6" fill="none" style="stroke-linecap:butt"/>
<path class="k" d="M247.4 778.7 L247.4 700.5 Q247.7 693 254.9 690.9 L375.4 646.4 Q377.2 645.9 377.2 647.9 L377.2 683.8" stroke-width="0.6" stroke="#555" fill="none" />
<polygon points="253,703.7 363,663 363.7,691 251.8,727" fill="url(#glass)" stroke="#555" stroke-width="0.7" stroke-linejoin="round" />
<polygon points="364.3,662 373.1,658.8 373.4,687 364.6,690.5" fill="#c9c9c9" stroke="#666" stroke-width="0.6" stroke-linejoin="round" />
<path class="k" d="M250.5 727 L373.8 687" fill="none" stroke-width="0.8" stroke="#444" />
<path class="k" d="M251.2 730.8 L373.8 690.2" fill="none" stroke-width="0.8" stroke="#666" />
<polygon points="245.5,737.1 375.7,692 376.3,721 245.5,778.7" fill="#d6d6d6" stroke="#444" stroke-width="0.8" stroke-linejoin="round" />
<path class="k" d="M260.6 751 L375.7 699.6" fill="none" stroke-width="0.8" stroke="#666" />
<path class="k" d="M260.6 761 L363 714.1 L363 718.5 L302.2 751 L301.6 747.2" fill="none" stroke-width="0.8" stroke="#555" />
<path class="k" d="M302.2 749.4 L308.5 746.9" fill="none" stroke-width="2" stroke="#333" />
<path class="k" d="M 270.7 732.7 Q 278.3 728.9 280.5 733.3 Q 281 738.3 273.2 741.5" stroke-width="1.0" stroke="#555" fill="#c4c4c4" />
<path class="k" d="M 344.1 708.4 Q 350.4 703.4 355.5 705.3 Q 356.7 708.4 347.9 712.5 Z" stroke-width="1.0" stroke="#555" fill="#bcbcbc" />
<path class="k" d="M 253.7 767.3 L 253.7 771.1 L 256.8 770.1 L 256.8 766.1 Z" stroke-width="0.8" stroke="#333" fill="#e6e6e6" />
<path class="k" d="M 372.5 717.9 L 372.5 722.9 L 375.4 722.1 L 375.4 716.6 Z" stroke-width="0.8" stroke="#333" fill="#e6e6e6" />
<polygon points="212.7,753.5 213.3,786.9 218.4,790 218.4,757.3" fill="#c9c9c9" stroke="#333" stroke-width="0.9" stroke-linejoin="round" />
<path class="k" d="M 218.4 757.3 L 233.5 751 L 234.1 783.1 L 218.4 790 Z" stroke-width="0.9" stroke="#333" fill="#d4d4d4" />
<path class="k" d="M 223 759.8 L 223 775.5 Q 226.3 779.3 229.7 775.9 L 229.7 756.6" stroke-width="1.0" stroke="#777" fill="#e9e9e9" />
<path class="k" d="M 233.5 751 L 239.8 749.1 L 240.4 780.6 L 234.1 783.1 Z" stroke-width="0.9" stroke="#444" fill="#8d8d8d" />
<path class="k" d="M 383.2 640.6 L 399.6 632.2 L 399 714.1 L 383.8 720.4 Z" stroke-width="0.9" stroke="#333" fill="#d0d0d0" />
<path class="k" d="M 388.9 651.1 Q 390.2 649.8 392.7 650.2 L 392.7 707.2 Q 391 711 388.9 708.4 Z" stroke-width="1.0" stroke="#666" fill="#ececec" />
<circle cx="255.6" cy="741.5" r="15.6" fill="#cfcfcf" fill-opacity="0.75" stroke="#222" stroke-width="1.1" stroke-dasharray="3.2 1.8"/>
<circle cx="371.2" cy="697.7" r="15.6" fill="#cfcfcf" fill-opacity="0.75" stroke="#222" stroke-width="1.1" stroke-dasharray="3.2 1.8"/>
<path class="k" d="M 152.6 616.7 L 204.3 703.5 Q 206.8 709.8 203.7 717.3 L 196.7 727.4 Q 194.2 732.5 197.4 738.8 Q 199.3 745.1 204.9 747.6 Q 206.8 752.7 213.1 752.7 Q 218.2 757.7 223.2 757.1 Q 230.8 755.2 235.8 748.9 L 240.9 744.1 L 242.8 731.8 L 246.5 727.7 Q 257.3 730.6 259.8 738.8 Q 259.2 745.3 253.5 744.6 Q 249.9 741.9 248.2 736.3 L 249.7 726.8 Q 230.8 703.5 223.2 675.7 L 198.6 597.6 L 152.6 597.6 Z" stroke-width="0.1" stroke="#fff" fill="#fff" />
<path class="k" d="M 152.6 616.7 L 204.3 703.5 Q 206.8 709.8 203.7 717.3 L 196.7 727.4 Q 194.2 732.5 197.4 738.8 Q 199.3 745.1 204.9 747.6 Q 206.8 752.7 213.1 752.7 Q 218.2 757.7 223.2 757.1 Q 230.8 755.2 235.8 748.9 L 240.9 744.1" stroke-width="1.1" stroke="#111" fill="none" />
<path class="k" d="M 198.6 597.6 L 223.2 675.7 Q 230.8 703.5 249.7 726.8" stroke-width="1.1" stroke="#111" fill="none" />
<path class="k" d="M 240.9 744.1 Q 241.5 736.3 246.5 727.7 Q 257.3 730.6 259.8 738.8 Q 259.2 745.3 253.5 744.6 Q 249.9 741.9 248.2 736.3" stroke-width="1.1" stroke="#111" fill="none" />
<path class="k" d="M 404.7 600 L 399.6 641.6 Q 390.8 665.6 382 680.7 L 370.6 690.8 Q 366.8 695.8 369.1 699.6 Q 373.1 702.4 380.7 697.1 L 387 692 L 400.9 680.7 L 399.6 699.6 Q 411 694.6 414.1 688.3 L 421 660.5 L 436.2 600 Z" stroke-width="0.1" stroke="#fff" fill="#fff" />
<path class="k" d="M 404.7 600 L 399.6 641.6 Q 390.8 665.6 382 680.7" stroke-width="1.1" stroke="#111" fill="none" />
<path class="k" d="M 436.2 600 L 421 660.5 L 414.1 688.3 Q 411 694.6 399.6 699.6" stroke-width="1.1" stroke="#111" fill="none" />
<path class="k" d="M 382 680.7 L 373.1 688.9 Q 366.8 694.6 368.7 699.4 Q 373.1 702.8 380.7 697.1 L 387 691.8 L 400.9 680.1" stroke-width="1.1" stroke="#111" fill="none" />
<path class="k" d="M 370.6 697.1 Q 371.9 693.9 375.7 697.1" stroke-width="0.8" stroke="#111" fill="none" />
<path class="k" d="M 387 691.8 L 388.3 689.8" stroke-width="0.8" stroke="#111" fill="none" />
<polygon points="318.6,693 298.4,725.7 311,723.2 311,768 326.8,761.7 327.4,715.7 336.9,710" fill="#111" stroke="none" stroke-width="1" stroke-linejoin="round" />
<path class="k" d="M 376.2 716.6 L 397.7 753.1 L 371.2 785.9 L 288 769.5 L 367.4 800.5 L 371.2 821.2 L 406.5 755.6 Z" stroke-width="0.1" stroke="#fff" fill="#fff" />
<circle cx="419.1" cy="801" r="51.7" fill="#fff" stroke="#8a8a8a" stroke-width="2.6"/>
<path class="k" d="M 371.2 784.6 L 406.5 751.9 L 417.8 751.9 L 391.4 798.5 L 369.2 798.5 Z" stroke-width="0.1" stroke="#fff" fill="#fff" />
<path class="k" d="M 376.2 716.6 L 397.7 753.1 L 371.2 785.9 L 288 769.5" stroke-width="2.6" stroke="#8a8a8a" fill="none" style="stroke-linejoin:miter"/>
<path class="k" d="M 376.2 716.6 L 409.5 750.1 L 417.1 750.1" stroke-width="2.6" stroke="#8a8a8a" fill="none" style="stroke-linejoin:miter"/>
<path class="k" d="M 288 769.5 L 367.4 800.5" stroke-width="2.6" stroke="#8a8a8a" fill="none" />
<path class="k" d="M 422.1 791.7 L 399.4 778.3 Q 388.3 779.6 387.3 791.4 Q 387.6 802.3 395.2 806.6 L 412.6 812.4 Z" stroke-width="1.0" stroke="#333" fill="url(#cyl)" />
<ellipse cx="417.3" cy="802" rx="7.0" ry="10.2" fill="#fbfbfb" stroke="#999" stroke-width="0.8" transform="rotate(-14 417.3 802)"/>
<path class="k" d="M 418.6 811.6 L 451.4 803.6 L 444.3 809.9 L 460 816.7 L 446.3 823.2 L 435.5 818.2 L 419.6 818.2 Z" stroke-width="0.5" stroke="#000" fill="#000" />
<rect class="t" x="296.2" y="605.6" width="12" height="11.5"/><rect class="t" x="311" y="605.6" width="12" height="11.5"/><rect class="t" x="325.6" y="605.6" width="12" height="11.5"/><rect class="t" x="343" y="605.6" width="12" height="11.5"/>
<path class="k" d="M292.3 610.3 L277.5 610.3 L277.5 654" fill="none" stroke-width="1.1" stroke="#000" style="stroke-linejoin:miter"/>
<circle cx="277.5" cy="654.4" r="2.7" fill="#111"/>
<rect class="t" x="436.1" y="711.6" width="11.4" height="11.2"/><rect class="t" x="453" y="711.6" width="11.4" height="11.2"/>
<path class="k" d="M431.7 717.3 L416.1 717.3 L416.1 785.9" fill="none" stroke-width="1.1" stroke="#000" style="stroke-linejoin:miter"/>
<circle cx="416.1" cy="786.4" r="2.7" fill="#111"/>
</svg>
</body></html>
